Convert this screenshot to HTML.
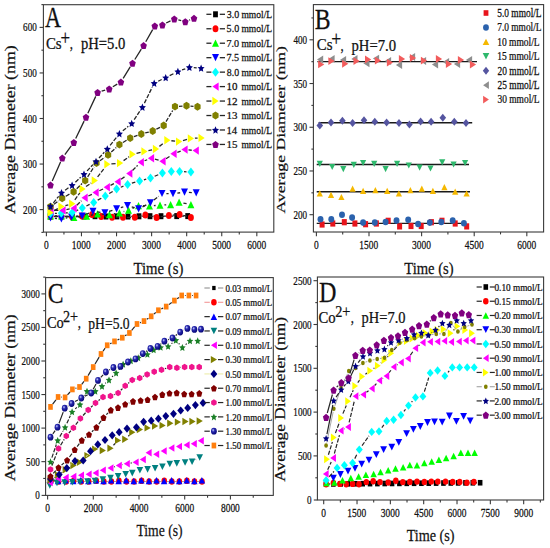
<!DOCTYPE html>
<html><head><meta charset="utf-8"><style>
html,body{margin:0;padding:0;background:#fff;}
body{width:550px;height:548px;overflow:hidden;}
svg{display:block;}
text{font-family:"Liberation Serif",serif;stroke:#111;stroke-width:0.25px;}
</style></head><body>
<svg width="550" height="548" viewBox="0 0 550 548">
<defs><radialGradient id="ballg" cx="0.38" cy="0.35" r="0.7"><stop offset="0" stop-color="#c8d0ff"/><stop offset="0.35" stop-color="#2a2ab0"/><stop offset="1" stop-color="#000070"/></radialGradient></defs>
<rect width="550" height="548" fill="#fff"/>
<line x1="39.60" y1="209.60" x2="43.40" y2="209.60" stroke="#3a3a3a" stroke-width="1.1"/>
<text transform="translate(23.12,213.60) scale(0.7700,1)" font-size="11.8" fill="#111" >200</text>
<line x1="39.60" y1="164.05" x2="43.40" y2="164.05" stroke="#3a3a3a" stroke-width="1.1"/>
<text transform="translate(23.12,168.05) scale(0.7700,1)" font-size="11.8" fill="#111" >300</text>
<line x1="39.60" y1="118.50" x2="43.40" y2="118.50" stroke="#3a3a3a" stroke-width="1.1"/>
<text transform="translate(23.12,122.50) scale(0.7700,1)" font-size="11.8" fill="#111" >400</text>
<line x1="39.60" y1="72.95" x2="43.40" y2="72.95" stroke="#3a3a3a" stroke-width="1.1"/>
<text transform="translate(23.12,76.95) scale(0.7700,1)" font-size="11.8" fill="#111" >500</text>
<line x1="39.60" y1="27.40" x2="43.40" y2="27.40" stroke="#3a3a3a" stroke-width="1.1"/>
<text transform="translate(23.12,31.40) scale(0.7700,1)" font-size="11.8" fill="#111" >600</text>
<line x1="41.40" y1="232.38" x2="43.40" y2="232.38" stroke="#3a3a3a" stroke-width="1.1"/>
<line x1="41.40" y1="186.82" x2="43.40" y2="186.82" stroke="#3a3a3a" stroke-width="1.1"/>
<line x1="41.40" y1="141.27" x2="43.40" y2="141.27" stroke="#3a3a3a" stroke-width="1.1"/>
<line x1="41.40" y1="95.72" x2="43.40" y2="95.72" stroke="#3a3a3a" stroke-width="1.1"/>
<line x1="41.40" y1="50.17" x2="43.40" y2="50.17" stroke="#3a3a3a" stroke-width="1.1"/>
<line x1="41.40" y1="4.62" x2="43.40" y2="4.62" stroke="#3a3a3a" stroke-width="1.1"/>
<line x1="46.40" y1="232.10" x2="46.40" y2="236.30" stroke="#3a3a3a" stroke-width="1.1"/>
<text transform="translate(44.04,249.20) scale(0.8000,1)" font-size="11.8" fill="#111" >0</text>
<line x1="81.47" y1="232.10" x2="81.47" y2="236.30" stroke="#3a3a3a" stroke-width="1.1"/>
<text transform="translate(71.79,249.20) scale(0.8000,1)" font-size="11.8" fill="#111" >1000</text>
<line x1="116.54" y1="232.10" x2="116.54" y2="236.30" stroke="#3a3a3a" stroke-width="1.1"/>
<text transform="translate(107.07,249.20) scale(0.8000,1)" font-size="11.8" fill="#111" >2000</text>
<line x1="151.61" y1="232.10" x2="151.61" y2="236.30" stroke="#3a3a3a" stroke-width="1.1"/>
<text transform="translate(142.12,249.20) scale(0.8000,1)" font-size="11.8" fill="#111" >3000</text>
<line x1="186.68" y1="232.10" x2="186.68" y2="236.30" stroke="#3a3a3a" stroke-width="1.1"/>
<text transform="translate(177.33,249.20) scale(0.8000,1)" font-size="11.8" fill="#111" >4000</text>
<line x1="221.75" y1="232.10" x2="221.75" y2="236.30" stroke="#3a3a3a" stroke-width="1.1"/>
<text transform="translate(212.22,249.20) scale(0.8000,1)" font-size="11.8" fill="#111" >5000</text>
<line x1="256.82" y1="232.10" x2="256.82" y2="236.30" stroke="#3a3a3a" stroke-width="1.1"/>
<text transform="translate(247.36,249.20) scale(0.8000,1)" font-size="11.8" fill="#111" >6000</text>
<line x1="63.94" y1="232.10" x2="63.94" y2="234.50" stroke="#3a3a3a" stroke-width="1.1"/>
<line x1="99.00" y1="232.10" x2="99.00" y2="234.50" stroke="#3a3a3a" stroke-width="1.1"/>
<line x1="134.07" y1="232.10" x2="134.07" y2="234.50" stroke="#3a3a3a" stroke-width="1.1"/>
<line x1="169.14" y1="232.10" x2="169.14" y2="234.50" stroke="#3a3a3a" stroke-width="1.1"/>
<line x1="204.22" y1="232.10" x2="204.22" y2="234.50" stroke="#3a3a3a" stroke-width="1.1"/>
<line x1="239.28" y1="232.10" x2="239.28" y2="234.50" stroke="#3a3a3a" stroke-width="1.1"/>
<rect x="43.40" y="4.70" width="230.40" height="227.40" fill="none" stroke="#3a3a3a" stroke-width="1.1"/>
<text transform="translate(44.98,26.60) scale(0.7548,1)" font-size="29.5" fill="#111" >A</text>
<text transform="translate(45.89,48.90) scale(0.9439,1)" font-size="15.8" fill="#111" >Cs</text>
<text transform="translate(60.45,44.70) scale(0.8322,1)" font-size="20.4" fill="#111" >+</text>
<text transform="translate(69.81,49.00) scale(0.8075,1)" font-size="15.8" fill="#111" >,</text>
<text transform="translate(80.96,49.20) scale(0.9254,1)" font-size="15.8" fill="#111" >pH=5.0</text>
<text transform="translate(15.40,213.97) rotate(-90) scale(1,0.8174)" font-size="17.795" fill="#111">Average Diameter (nm)</text>
<text transform="translate(133.53,273.90) scale(0.8435,1)" font-size="17.5" fill="#111" >Time (s)</text>
<line x1="309.50" y1="214.70" x2="313.40" y2="214.70" stroke="#3a3a3a" stroke-width="1.1"/>
<text transform="translate(293.52,218.70) scale(0.7700,1)" font-size="11.8" fill="#111" >200</text>
<line x1="309.50" y1="170.97" x2="313.40" y2="170.97" stroke="#3a3a3a" stroke-width="1.1"/>
<text transform="translate(293.52,174.97) scale(0.7700,1)" font-size="11.8" fill="#111" >250</text>
<line x1="309.50" y1="127.25" x2="313.40" y2="127.25" stroke="#3a3a3a" stroke-width="1.1"/>
<text transform="translate(293.52,131.25) scale(0.7700,1)" font-size="11.8" fill="#111" >300</text>
<line x1="309.50" y1="83.52" x2="313.40" y2="83.52" stroke="#3a3a3a" stroke-width="1.1"/>
<text transform="translate(293.52,87.52) scale(0.7700,1)" font-size="11.8" fill="#111" >350</text>
<line x1="309.50" y1="39.80" x2="313.40" y2="39.80" stroke="#3a3a3a" stroke-width="1.1"/>
<text transform="translate(293.52,43.80) scale(0.7700,1)" font-size="11.8" fill="#111" >400</text>
<line x1="311.40" y1="192.84" x2="313.40" y2="192.84" stroke="#3a3a3a" stroke-width="1.1"/>
<line x1="311.40" y1="149.11" x2="313.40" y2="149.11" stroke="#3a3a3a" stroke-width="1.1"/>
<line x1="311.40" y1="105.39" x2="313.40" y2="105.39" stroke="#3a3a3a" stroke-width="1.1"/>
<line x1="311.40" y1="61.66" x2="313.40" y2="61.66" stroke="#3a3a3a" stroke-width="1.1"/>
<line x1="311.40" y1="17.94" x2="313.40" y2="17.94" stroke="#3a3a3a" stroke-width="1.1"/>
<line x1="316.40" y1="232.00" x2="316.40" y2="236.20" stroke="#3a3a3a" stroke-width="1.1"/>
<text transform="translate(314.04,249.30) scale(0.8000,1)" font-size="11.8" fill="#111" >0</text>
<line x1="369.00" y1="232.00" x2="369.00" y2="236.20" stroke="#3a3a3a" stroke-width="1.1"/>
<text transform="translate(359.33,249.30) scale(0.8000,1)" font-size="11.8" fill="#111" >1500</text>
<line x1="421.61" y1="232.00" x2="421.61" y2="236.20" stroke="#3a3a3a" stroke-width="1.1"/>
<text transform="translate(412.12,249.30) scale(0.8000,1)" font-size="11.8" fill="#111" >3000</text>
<line x1="474.21" y1="232.00" x2="474.21" y2="236.20" stroke="#3a3a3a" stroke-width="1.1"/>
<text transform="translate(464.86,249.30) scale(0.8000,1)" font-size="11.8" fill="#111" >4500</text>
<line x1="526.82" y1="232.00" x2="526.82" y2="236.20" stroke="#3a3a3a" stroke-width="1.1"/>
<text transform="translate(517.36,249.30) scale(0.8000,1)" font-size="11.8" fill="#111" >6000</text>
<line x1="342.70" y1="232.00" x2="342.70" y2="234.40" stroke="#3a3a3a" stroke-width="1.1"/>
<line x1="395.31" y1="232.00" x2="395.31" y2="234.40" stroke="#3a3a3a" stroke-width="1.1"/>
<line x1="447.91" y1="232.00" x2="447.91" y2="234.40" stroke="#3a3a3a" stroke-width="1.1"/>
<line x1="500.52" y1="232.00" x2="500.52" y2="234.40" stroke="#3a3a3a" stroke-width="1.1"/>
<rect x="313.40" y="4.60" width="230.20" height="227.40" fill="none" stroke="#3a3a3a" stroke-width="1.1"/>
<text transform="translate(314.72,29.00) scale(0.8052,1)" font-size="29.5" fill="#111" >B</text>
<text transform="translate(316.79,50.40) scale(0.9439,1)" font-size="15.8" fill="#111" >Cs</text>
<text transform="translate(331.22,45.50) scale(0.8638,1)" font-size="20.4" fill="#111" >+</text>
<text transform="translate(340.51,50.50) scale(0.8075,1)" font-size="15.8" fill="#111" >,</text>
<text transform="translate(351.46,50.60) scale(0.9318,1)" font-size="15.8" fill="#111" >pH=7.0</text>
<text transform="translate(284.70,213.57) rotate(-90) scale(1,0.7618)" font-size="17.700" fill="#111">Average Diameter (nm)</text>
<text transform="translate(404.24,274.20) scale(0.8349,1)" font-size="17.5" fill="#111" >Time (s)</text>
<text transform="translate(35.20,499.20) scale(0.7700,1)" font-size="11.8" fill="#111" >0</text>
<line x1="41.40" y1="461.65" x2="45.60" y2="461.65" stroke="#3a3a3a" stroke-width="1.1"/>
<text transform="translate(26.12,465.65) scale(0.7700,1)" font-size="11.8" fill="#111" >500</text>
<line x1="41.40" y1="428.10" x2="45.60" y2="428.10" stroke="#3a3a3a" stroke-width="1.1"/>
<text transform="translate(21.57,432.10) scale(0.7700,1)" font-size="11.8" fill="#111" >1000</text>
<line x1="41.40" y1="394.55" x2="45.60" y2="394.55" stroke="#3a3a3a" stroke-width="1.1"/>
<text transform="translate(21.57,398.55) scale(0.7700,1)" font-size="11.8" fill="#111" >1500</text>
<line x1="41.40" y1="361.00" x2="45.60" y2="361.00" stroke="#3a3a3a" stroke-width="1.1"/>
<text transform="translate(21.57,365.00) scale(0.7700,1)" font-size="11.8" fill="#111" >2000</text>
<line x1="41.40" y1="327.45" x2="45.60" y2="327.45" stroke="#3a3a3a" stroke-width="1.1"/>
<text transform="translate(21.57,331.45) scale(0.7700,1)" font-size="11.8" fill="#111" >2500</text>
<line x1="41.40" y1="293.90" x2="45.60" y2="293.90" stroke="#3a3a3a" stroke-width="1.1"/>
<text transform="translate(21.57,297.90) scale(0.7700,1)" font-size="11.8" fill="#111" >3000</text>
<line x1="43.20" y1="478.43" x2="45.60" y2="478.43" stroke="#3a3a3a" stroke-width="1.1"/>
<line x1="43.20" y1="444.88" x2="45.60" y2="444.88" stroke="#3a3a3a" stroke-width="1.1"/>
<line x1="43.20" y1="411.32" x2="45.60" y2="411.32" stroke="#3a3a3a" stroke-width="1.1"/>
<line x1="43.20" y1="377.77" x2="45.60" y2="377.77" stroke="#3a3a3a" stroke-width="1.1"/>
<line x1="43.20" y1="344.22" x2="45.60" y2="344.22" stroke="#3a3a3a" stroke-width="1.1"/>
<line x1="43.20" y1="310.67" x2="45.60" y2="310.67" stroke="#3a3a3a" stroke-width="1.1"/>
<line x1="43.20" y1="277.12" x2="45.60" y2="277.12" stroke="#3a3a3a" stroke-width="1.1"/>
<line x1="47.60" y1="495.40" x2="47.60" y2="499.60" stroke="#3a3a3a" stroke-width="1.1"/>
<text transform="translate(45.24,511.80) scale(0.8000,1)" font-size="11.8" fill="#111" >0</text>
<line x1="93.30" y1="495.40" x2="93.30" y2="499.60" stroke="#3a3a3a" stroke-width="1.1"/>
<text transform="translate(83.83,511.80) scale(0.8000,1)" font-size="11.8" fill="#111" >2000</text>
<line x1="139.00" y1="495.40" x2="139.00" y2="499.60" stroke="#3a3a3a" stroke-width="1.1"/>
<text transform="translate(129.65,511.80) scale(0.8000,1)" font-size="11.8" fill="#111" >4000</text>
<line x1="184.70" y1="495.40" x2="184.70" y2="499.60" stroke="#3a3a3a" stroke-width="1.1"/>
<text transform="translate(175.24,511.80) scale(0.8000,1)" font-size="11.8" fill="#111" >6000</text>
<line x1="230.40" y1="495.40" x2="230.40" y2="499.60" stroke="#3a3a3a" stroke-width="1.1"/>
<text transform="translate(220.96,511.80) scale(0.8000,1)" font-size="11.8" fill="#111" >8000</text>
<line x1="70.45" y1="495.40" x2="70.45" y2="497.80" stroke="#3a3a3a" stroke-width="1.1"/>
<line x1="116.15" y1="495.40" x2="116.15" y2="497.80" stroke="#3a3a3a" stroke-width="1.1"/>
<line x1="161.85" y1="495.40" x2="161.85" y2="497.80" stroke="#3a3a3a" stroke-width="1.1"/>
<line x1="207.55" y1="495.40" x2="207.55" y2="497.80" stroke="#3a3a3a" stroke-width="1.1"/>
<line x1="253.25" y1="495.40" x2="253.25" y2="497.80" stroke="#3a3a3a" stroke-width="1.1"/>
<rect x="45.60" y="277.60" width="227.70" height="217.80" fill="none" stroke="#3a3a3a" stroke-width="1.1"/>
<line x1="41.60" y1="495.40" x2="45.60" y2="495.40" stroke="#3a3a3a" stroke-width="1.1"/>
<text transform="translate(47.83,303.10) scale(0.8017,1)" font-size="29.5" fill="#111" >C</text>
<text transform="translate(46.91,328.20) scale(0.8908,1)" font-size="16.2" fill="#111" >Co</text>
<text transform="translate(62.98,322.40) scale(0.8771,1)" font-size="16.2" fill="#111" >2+</text>
<text transform="translate(77.71,328.40) scale(0.7875,1)" font-size="16.2" fill="#111" >,</text>
<text transform="translate(88.28,328.60) scale(0.8425,1)" font-size="16.2" fill="#111" >pH=5.0</text>
<text transform="translate(15.10,481.27) rotate(-90) scale(1,0.7994)" font-size="17.626" fill="#111">Average Diameter (nm)</text>
<text transform="translate(136.45,536.00) scale(0.7804,1)" font-size="17.5" fill="#111" >Time (s)</text>
<text transform="translate(307.00,503.70) scale(0.7700,1)" font-size="11.8" fill="#111" >0</text>
<line x1="313.50" y1="455.90" x2="317.40" y2="455.90" stroke="#3a3a3a" stroke-width="1.1"/>
<text transform="translate(297.92,459.90) scale(0.7700,1)" font-size="11.8" fill="#111" >500</text>
<line x1="313.50" y1="412.10" x2="317.40" y2="412.10" stroke="#3a3a3a" stroke-width="1.1"/>
<text transform="translate(293.37,416.10) scale(0.7700,1)" font-size="11.8" fill="#111" >1000</text>
<line x1="313.50" y1="368.30" x2="317.40" y2="368.30" stroke="#3a3a3a" stroke-width="1.1"/>
<text transform="translate(293.37,372.30) scale(0.7700,1)" font-size="11.8" fill="#111" >1500</text>
<line x1="313.50" y1="324.50" x2="317.40" y2="324.50" stroke="#3a3a3a" stroke-width="1.1"/>
<text transform="translate(293.37,328.50) scale(0.7700,1)" font-size="11.8" fill="#111" >2000</text>
<line x1="313.50" y1="280.70" x2="317.40" y2="280.70" stroke="#3a3a3a" stroke-width="1.1"/>
<text transform="translate(293.37,284.70) scale(0.7700,1)" font-size="11.8" fill="#111" >2500</text>
<line x1="315.30" y1="477.80" x2="317.40" y2="477.80" stroke="#3a3a3a" stroke-width="1.1"/>
<line x1="315.30" y1="434.00" x2="317.40" y2="434.00" stroke="#3a3a3a" stroke-width="1.1"/>
<line x1="315.30" y1="390.20" x2="317.40" y2="390.20" stroke="#3a3a3a" stroke-width="1.1"/>
<line x1="315.30" y1="346.40" x2="317.40" y2="346.40" stroke="#3a3a3a" stroke-width="1.1"/>
<line x1="315.30" y1="302.60" x2="317.40" y2="302.60" stroke="#3a3a3a" stroke-width="1.1"/>
<line x1="323.70" y1="500.00" x2="323.70" y2="504.20" stroke="#3a3a3a" stroke-width="1.1"/>
<text transform="translate(321.34,516.80) scale(0.8000,1)" font-size="11.8" fill="#111" >0</text>
<line x1="357.03" y1="500.00" x2="357.03" y2="504.20" stroke="#3a3a3a" stroke-width="1.1"/>
<text transform="translate(347.35,516.80) scale(0.8000,1)" font-size="11.8" fill="#111" >1500</text>
<line x1="390.36" y1="500.00" x2="390.36" y2="504.20" stroke="#3a3a3a" stroke-width="1.1"/>
<text transform="translate(380.87,516.80) scale(0.8000,1)" font-size="11.8" fill="#111" >3000</text>
<line x1="423.69" y1="500.00" x2="423.69" y2="504.20" stroke="#3a3a3a" stroke-width="1.1"/>
<text transform="translate(414.34,516.80) scale(0.8000,1)" font-size="11.8" fill="#111" >4500</text>
<line x1="457.02" y1="500.00" x2="457.02" y2="504.20" stroke="#3a3a3a" stroke-width="1.1"/>
<text transform="translate(447.56,516.80) scale(0.8000,1)" font-size="11.8" fill="#111" >6000</text>
<line x1="490.35" y1="500.00" x2="490.35" y2="504.20" stroke="#3a3a3a" stroke-width="1.1"/>
<text transform="translate(480.78,516.80) scale(0.8000,1)" font-size="11.8" fill="#111" >7500</text>
<line x1="523.68" y1="500.00" x2="523.68" y2="504.20" stroke="#3a3a3a" stroke-width="1.1"/>
<text transform="translate(514.27,516.80) scale(0.8000,1)" font-size="11.8" fill="#111" >9000</text>
<line x1="340.37" y1="500.00" x2="340.37" y2="502.40" stroke="#3a3a3a" stroke-width="1.1"/>
<line x1="373.69" y1="500.00" x2="373.69" y2="502.40" stroke="#3a3a3a" stroke-width="1.1"/>
<line x1="407.02" y1="500.00" x2="407.02" y2="502.40" stroke="#3a3a3a" stroke-width="1.1"/>
<line x1="440.36" y1="500.00" x2="440.36" y2="502.40" stroke="#3a3a3a" stroke-width="1.1"/>
<line x1="473.69" y1="500.00" x2="473.69" y2="502.40" stroke="#3a3a3a" stroke-width="1.1"/>
<line x1="507.01" y1="500.00" x2="507.01" y2="502.40" stroke="#3a3a3a" stroke-width="1.1"/>
<line x1="540.35" y1="500.00" x2="540.35" y2="502.40" stroke="#3a3a3a" stroke-width="1.1"/>
<rect x="317.40" y="277.00" width="226.20" height="223.00" fill="none" stroke="#3a3a3a" stroke-width="1.1"/>
<line x1="313.80" y1="500.00" x2="317.40" y2="500.00" stroke="#3a3a3a" stroke-width="1.1"/>
<text transform="translate(319.00,301.60) scale(0.8198,1)" font-size="29.5" fill="#111" >D</text>
<text transform="translate(318.40,322.60) scale(0.9079,1)" font-size="16.2" fill="#111" >Co</text>
<text transform="translate(335.17,317.10) scale(0.8835,1)" font-size="16.2" fill="#111" >2+</text>
<text transform="translate(350.71,322.80) scale(0.7875,1)" font-size="16.2" fill="#111" >,</text>
<text transform="translate(361.57,323.20) scale(0.8943,1)" font-size="16.2" fill="#111" >pH=7.0</text>
<text transform="translate(285.00,481.77) rotate(-90) scale(1,0.7835)" font-size="17.405" fill="#111">Average Diameter (nm)</text>
<text transform="translate(406.64,541.40) scale(0.8111,1)" font-size="17.5" fill="#111" >Time (s)</text>
<path d="M53.80,216.44L58.20,216.36M64.80,216.36L69.20,216.44M75.80,216.50L80.70,216.50M87.30,216.41L91.70,216.29M98.30,216.29L102.70,216.41M109.30,216.47L113.70,216.43M120.30,216.43L124.70,216.47M131.30,216.44L135.70,216.36M142.30,216.27L146.70,216.23M153.30,216.20L157.70,216.20M164.30,216.18L173.40,216.12M180.00,216.10L184.40,216.10" fill="none" stroke="#262626" stroke-width="1.3" stroke-dasharray="4.2,1.5"/>
<rect x="48.10" y="213.50" width="4.80" height="6.00" fill="#000"/>
<rect x="59.10" y="213.30" width="4.80" height="6.00" fill="#000"/>
<rect x="70.10" y="213.50" width="4.80" height="6.00" fill="#000"/>
<rect x="81.60" y="213.50" width="4.80" height="6.00" fill="#000"/>
<rect x="92.60" y="213.20" width="4.80" height="6.00" fill="#000"/>
<rect x="103.60" y="213.50" width="4.80" height="6.00" fill="#000"/>
<rect x="114.60" y="213.40" width="4.80" height="6.00" fill="#000"/>
<rect x="125.60" y="213.50" width="4.80" height="6.00" fill="#000"/>
<rect x="136.60" y="213.30" width="4.80" height="6.00" fill="#000"/>
<rect x="147.60" y="213.20" width="4.80" height="6.00" fill="#000"/>
<rect x="158.60" y="213.20" width="4.80" height="6.00" fill="#000"/>
<rect x="174.30" y="213.10" width="4.80" height="6.00" fill="#000"/>
<rect x="185.30" y="213.10" width="4.80" height="6.00" fill="#000"/>
<path d="M54.35,216.50L57.65,216.50M65.35,216.50L68.15,216.50M75.85,216.31L78.15,216.19M85.82,215.47L88.28,215.13M95.89,215.35L97.41,215.65M105.04,216.72L108.26,216.98M115.95,217.30L119.15,217.30M126.85,217.30L130.95,217.30M138.58,216.48L141.62,215.82M149.18,215.81L152.82,216.59M160.42,216.84L165.08,216.16M172.73,215.17L175.77,214.83M183.35,215.40L187.15,216.40" fill="none" stroke="#262626" stroke-width="1.3" stroke-dasharray="4.2,1.5"/>
<ellipse cx="50.50" cy="216.50" rx="2.95" ry="3.50" fill="#ff0000"/>
<ellipse cx="61.50" cy="216.50" rx="2.95" ry="3.50" fill="#ff0000"/>
<ellipse cx="72.00" cy="216.50" rx="2.95" ry="3.50" fill="#ff0000"/>
<ellipse cx="82.00" cy="216.00" rx="2.95" ry="3.50" fill="#ff0000"/>
<ellipse cx="92.10" cy="214.60" rx="2.95" ry="3.50" fill="#ff0000"/>
<ellipse cx="101.20" cy="216.40" rx="2.95" ry="3.50" fill="#ff0000"/>
<ellipse cx="112.10" cy="217.30" rx="2.95" ry="3.50" fill="#ff0000"/>
<ellipse cx="123.00" cy="217.30" rx="2.95" ry="3.50" fill="#ff0000"/>
<ellipse cx="134.80" cy="217.30" rx="2.95" ry="3.50" fill="#ff0000"/>
<ellipse cx="145.40" cy="215.00" rx="2.95" ry="3.50" fill="#ff0000"/>
<ellipse cx="156.60" cy="217.40" rx="2.95" ry="3.50" fill="#ff0000"/>
<ellipse cx="168.90" cy="215.60" rx="2.95" ry="3.50" fill="#ff0000"/>
<ellipse cx="179.60" cy="214.40" rx="2.95" ry="3.50" fill="#ff0000"/>
<ellipse cx="190.90" cy="217.40" rx="2.95" ry="3.50" fill="#ff0000"/>
<path d="M54.90,216.00L57.10,216.00M65.87,216.53L69.53,216.97M78.28,217.05L82.22,216.65M90.90,215.25L93.20,214.75M101.89,214.10L105.01,214.30M113.73,213.82L115.07,213.58M123.64,211.59L124.26,211.41M132.51,208.35L134.49,207.45M142.90,205.76L145.10,205.84M153.88,205.62L155.62,205.48M164.40,204.89L166.20,204.81M183.42,203.08L186.58,203.72" fill="none" stroke="#262626" stroke-width="1.3" stroke-dasharray="4.2,1.5"/>
<polygon points="50.50,212.40 54.00,219.60 47.00,219.60" fill="#00ff00"/>
<polygon points="61.50,212.40 65.00,219.60 58.00,219.60" fill="#00ff00"/>
<polygon points="73.90,213.90 77.40,221.10 70.40,221.10" fill="#00ff00"/>
<polygon points="86.60,212.60 90.10,219.80 83.10,219.80" fill="#00ff00"/>
<polygon points="97.50,210.20 101.00,217.40 94.00,217.40" fill="#00ff00"/>
<polygon points="109.40,211.00 112.90,218.20 105.90,218.20" fill="#00ff00"/>
<polygon points="119.40,209.20 122.90,216.40 115.90,216.40" fill="#00ff00"/>
<polygon points="128.50,206.60 132.00,213.80 125.00,213.80" fill="#00ff00"/>
<polygon points="138.50,202.00 142.00,209.20 135.00,209.20" fill="#00ff00"/>
<polygon points="149.50,202.40 153.00,209.60 146.00,209.60" fill="#00ff00"/>
<polygon points="160.00,201.50 163.50,208.70 156.50,208.70" fill="#00ff00"/>
<polygon points="170.60,201.00 174.10,208.20 167.10,208.20" fill="#00ff00"/>
<polygon points="179.10,198.60 182.60,205.80 175.60,205.80" fill="#00ff00"/>
<polygon points="190.90,201.00 194.40,208.20 187.40,208.20" fill="#00ff00"/>
<path d="M54.87,218.28L57.03,218.52M65.73,218.19L67.27,217.91M75.98,216.65L77.82,216.45M86.26,214.27L88.94,213.13M97.37,211.95L100.53,212.35M109.07,211.47L112.43,210.33M120.83,207.66L123.27,206.94M131.74,206.89L134.36,207.61M142.54,206.80L146.46,204.80M153.86,200.02L158.54,196.28M166.40,193.54L168.60,193.56M177.37,193.07L180.13,192.73M188.89,192.46L191.81,192.64" fill="none" stroke="#262626" stroke-width="1.3" stroke-dasharray="4.2,1.5"/>
<polygon points="50.50,221.40 54.00,214.20 47.00,214.20" fill="#0000ff"/>
<polygon points="61.40,222.60 64.90,215.40 57.90,215.40" fill="#0000ff"/>
<polygon points="71.60,220.70 75.10,213.50 68.10,213.50" fill="#0000ff"/>
<polygon points="82.20,219.60 85.70,212.40 78.70,212.40" fill="#0000ff"/>
<polygon points="93.00,215.00 96.50,207.80 89.50,207.80" fill="#0000ff"/>
<polygon points="104.90,216.50 108.40,209.30 101.40,209.30" fill="#0000ff"/>
<polygon points="116.60,212.50 120.10,205.30 113.10,205.30" fill="#0000ff"/>
<polygon points="127.50,209.30 131.00,202.10 124.00,202.10" fill="#0000ff"/>
<polygon points="138.60,212.40 142.10,205.20 135.10,205.20" fill="#0000ff"/>
<polygon points="150.40,206.40 153.90,199.20 146.90,199.20" fill="#0000ff"/>
<polygon points="162.00,197.10 165.50,189.90 158.50,189.90" fill="#0000ff"/>
<polygon points="173.00,197.20 176.50,190.00 169.50,190.00" fill="#0000ff"/>
<polygon points="184.50,195.80 188.00,188.60 181.00,188.60" fill="#0000ff"/>
<polygon points="196.20,196.50 199.70,189.30 192.70,189.30" fill="#0000ff"/>
<path d="M54.90,213.32L56.90,213.28M65.70,212.96L67.80,212.84M76.32,210.72L78.18,209.88M86.38,206.00L89.62,204.40M97.70,200.19L101.30,198.21M109.22,193.57L112.68,191.43M120.76,187.26L123.44,186.14M131.88,183.19L135.32,182.21M143.89,179.82L146.21,179.18M154.66,176.25L158.24,174.75M183.99,171.67L186.51,171.83" fill="none" stroke="#262626" stroke-width="1.3" stroke-dasharray="4.2,1.5"/>
<polygon points="50.50,208.90 54.00,213.40 50.50,217.90 47.00,213.40" fill="#00ffff"/>
<polygon points="61.30,208.70 64.80,213.20 61.30,217.70 57.80,213.20" fill="#00ffff"/>
<polygon points="72.20,208.10 75.70,212.60 72.20,217.10 68.70,212.60" fill="#00ffff"/>
<polygon points="82.30,203.50 85.80,208.00 82.30,212.50 78.80,208.00" fill="#00ffff"/>
<polygon points="93.70,197.90 97.20,202.40 93.70,206.90 90.20,202.40" fill="#00ffff"/>
<polygon points="105.30,191.50 108.80,196.00 105.30,200.50 101.80,196.00" fill="#00ffff"/>
<polygon points="116.60,184.50 120.10,189.00 116.60,193.50 113.10,189.00" fill="#00ffff"/>
<polygon points="127.60,179.90 131.10,184.40 127.60,188.90 124.10,184.40" fill="#00ffff"/>
<polygon points="139.60,176.50 143.10,181.00 139.60,185.50 136.10,181.00" fill="#00ffff"/>
<polygon points="150.50,173.50 154.00,178.00 150.50,182.50 147.00,178.00" fill="#00ffff"/>
<polygon points="162.40,168.50 165.90,173.00 162.40,177.50 158.90,173.00" fill="#00ffff"/>
<polygon points="171.30,166.90 174.80,171.40 171.30,175.90 167.80,171.40" fill="#00ffff"/>
<polygon points="179.60,166.90 183.10,171.40 179.60,175.90 176.10,171.40" fill="#00ffff"/>
<polygon points="190.90,167.60 194.40,172.10 190.90,176.60 187.40,172.10" fill="#00ffff"/>
<path d="M54.50,210.27L58.50,210.33M66.45,209.62L69.65,208.98M76.80,205.18L81.40,200.82M88.33,196.00L91.87,194.30M99.34,190.73L103.06,188.97M110.51,185.34L113.89,183.66M121.08,179.33L125.82,175.97M132.46,170.42L137.64,165.38M144.61,160.77L147.19,159.73M154.91,159.22L158.59,160.18M166.02,158.83L169.98,156.17M177.32,152.34L180.68,151.06M188.49,149.96L191.71,150.24" fill="none" stroke="#262626" stroke-width="1.3" stroke-dasharray="4.2,1.5"/>
<polygon points="47.40,210.20 53.60,206.00 53.60,214.40" fill="#ff00ff"/>
<polygon points="59.40,210.40 65.60,206.20 65.60,214.60" fill="#ff00ff"/>
<polygon points="70.50,208.20 76.70,204.00 76.70,212.40" fill="#ff00ff"/>
<polygon points="81.50,197.80 87.70,193.60 87.70,202.00" fill="#ff00ff"/>
<polygon points="92.50,192.50 98.70,188.30 98.70,196.70" fill="#ff00ff"/>
<polygon points="103.70,187.20 109.90,183.00 109.90,191.40" fill="#ff00ff"/>
<polygon points="114.50,181.80 120.70,177.60 120.70,186.00" fill="#ff00ff"/>
<polygon points="126.20,173.50 132.40,169.30 132.40,177.70" fill="#ff00ff"/>
<polygon points="137.70,162.30 143.90,158.10 143.90,166.50" fill="#ff00ff"/>
<polygon points="147.90,158.20 154.10,154.00 154.10,162.40" fill="#ff00ff"/>
<polygon points="159.40,161.20 165.60,157.00 165.60,165.40" fill="#ff00ff"/>
<polygon points="170.40,153.80 176.60,149.60 176.60,158.00" fill="#ff00ff"/>
<polygon points="181.40,149.60 187.60,145.40 187.60,153.80" fill="#ff00ff"/>
<polygon points="192.60,150.60 198.80,146.40 198.80,154.80" fill="#ff00ff"/>
<path d="M54.17,210.60L57.83,208.60M65.41,205.54L68.29,204.76M74.85,199.92L79.85,192.78M86.00,186.58L91.30,182.92M97.60,176.90L104.60,167.90M111.39,163.92L116.11,163.48M123.58,160.62L129.12,156.68M136.53,153.28L140.57,152.32M148.44,150.58L152.06,149.82M159.42,146.39L163.98,142.91M171.38,140.74L175.12,141.16M183.01,140.54L186.99,139.46M194.90,138.21L197.60,138.09" fill="none" stroke="#262626" stroke-width="1.3" stroke-dasharray="4.2,1.5"/>
<polygon points="53.60,212.60 47.40,208.40 47.40,216.80" fill="#ffff00"/>
<polygon points="64.60,206.60 58.40,202.40 58.40,210.80" fill="#ffff00"/>
<polygon points="75.30,203.70 69.10,199.50 69.10,207.90" fill="#ffff00"/>
<polygon points="85.60,189.00 79.40,184.80 79.40,193.20" fill="#ffff00"/>
<polygon points="97.90,180.50 91.70,176.30 91.70,184.70" fill="#ffff00"/>
<polygon points="110.50,164.30 104.30,160.10 104.30,168.50" fill="#ffff00"/>
<polygon points="123.20,163.10 117.00,158.90 117.00,167.30" fill="#ffff00"/>
<polygon points="135.70,154.20 129.50,150.00 129.50,158.40" fill="#ffff00"/>
<polygon points="147.60,151.40 141.40,147.20 141.40,155.60" fill="#ffff00"/>
<polygon points="159.10,149.00 152.90,144.80 152.90,153.20" fill="#ffff00"/>
<polygon points="170.50,140.30 164.30,136.10 164.30,144.50" fill="#ffff00"/>
<polygon points="182.20,141.60 176.00,137.40 176.00,145.80" fill="#ffff00"/>
<polygon points="194.00,138.40 187.80,134.20 187.80,142.60" fill="#ffff00"/>
<polygon points="204.70,137.90 198.50,133.70 198.50,142.10" fill="#ffff00"/>
<path d="M53.94,204.16L58.76,200.74M65.80,196.22L70.00,193.78M76.73,188.71L82.07,183.59M87.66,176.79L94.04,166.91M99.95,160.66L104.65,157.34M111.29,152.00L116.21,147.50M122.97,142.45L126.63,140.25M134.02,136.69L137.48,135.41M145.21,132.97L148.79,132.03M156.39,129.15L160.01,127.35M166.04,121.59L172.66,110.51M178.99,106.32L182.51,106.08M190.49,106.13L193.51,106.37" fill="none" stroke="#262626" stroke-width="1.3" stroke-dasharray="4.2,1.5"/>
<polygon points="50.50,202.65 53.60,204.62 53.60,208.57 50.50,210.55 47.40,208.57 47.40,204.62" fill="#808000"/>
<polygon points="62.20,194.35 65.30,196.33 65.30,200.28 62.20,202.25 59.10,200.28 59.10,196.33" fill="#808000"/>
<polygon points="73.60,187.75 76.70,189.72 76.70,193.67 73.60,195.65 70.50,193.67 70.50,189.72" fill="#808000"/>
<polygon points="85.20,176.65 88.30,178.62 88.30,182.57 85.20,184.55 82.10,182.57 82.10,178.62" fill="#808000"/>
<polygon points="96.50,159.15 99.60,161.12 99.60,165.07 96.50,167.05 93.40,165.07 93.40,161.12" fill="#808000"/>
<polygon points="108.10,150.95 111.20,152.93 111.20,156.88 108.10,158.85 105.00,156.88 105.00,152.93" fill="#808000"/>
<polygon points="119.40,140.65 122.50,142.62 122.50,146.57 119.40,148.55 116.30,146.57 116.30,142.62" fill="#808000"/>
<polygon points="130.20,134.15 133.30,136.12 133.30,140.07 130.20,142.05 127.10,140.07 127.10,136.12" fill="#808000"/>
<polygon points="141.30,130.05 144.40,132.03 144.40,135.97 141.30,137.95 138.20,135.97 138.20,132.03" fill="#808000"/>
<polygon points="152.70,127.05 155.80,129.03 155.80,132.97 152.70,134.95 149.60,132.97 149.60,129.03" fill="#808000"/>
<polygon points="163.70,121.55 166.80,123.53 166.80,127.47 163.70,129.45 160.60,127.47 160.60,123.53" fill="#808000"/>
<polygon points="175.00,102.65 178.10,104.62 178.10,108.57 175.00,110.55 171.90,108.57 171.90,104.62" fill="#808000"/>
<polygon points="186.50,101.85 189.60,103.83 189.60,107.77 186.50,109.75 183.40,107.78 183.40,103.83" fill="#808000"/>
<polygon points="197.50,102.75 200.60,104.73 200.60,108.67 197.50,110.65 194.40,108.68 194.40,104.73" fill="#808000"/>
<path d="M53.35,202.80L58.65,196.30M65.13,190.20L68.47,187.80M75.40,182.15L80.70,177.25M87.08,170.92L92.92,164.68M99.02,158.06L104.28,152.24M110.11,145.36L116.59,137.24M122.83,130.82L128.27,126.28M134.20,119.62L139.90,110.98M144.41,103.11L152.19,87.29M158.19,81.26L161.71,79.54M169.67,75.62L173.93,73.48M182.05,69.98L185.25,68.82M193.79,67.60L196.71,67.80" fill="none" stroke="#262626" stroke-width="1.3" stroke-dasharray="4.2,1.5"/>
<polygon points="50.50,202.60 51.54,205.10 54.00,205.43 52.18,207.30 52.66,210.00 50.50,208.65 48.34,210.00 48.82,207.30 47.00,205.43 49.46,205.10" fill="#000080"/>
<polygon points="61.50,189.10 62.54,191.60 65.00,191.93 63.18,193.80 63.66,196.50 61.50,195.15 59.34,196.50 59.82,193.80 58.00,191.93 60.46,191.60" fill="#000080"/>
<polygon points="72.10,181.50 73.14,184.00 75.60,184.33 73.78,186.20 74.26,188.90 72.10,187.55 69.94,188.90 70.42,186.20 68.60,184.33 71.06,184.00" fill="#000080"/>
<polygon points="84.00,170.50 85.04,173.00 87.50,173.33 85.68,175.20 86.16,177.90 84.00,176.55 81.84,177.90 82.32,175.20 80.50,173.33 82.96,173.00" fill="#000080"/>
<polygon points="96.00,157.70 97.04,160.20 99.50,160.53 97.68,162.40 98.16,165.10 96.00,163.75 93.84,165.10 94.32,162.40 92.50,160.53 94.96,160.20" fill="#000080"/>
<polygon points="107.30,145.20 108.34,147.70 110.80,148.03 108.98,149.90 109.46,152.60 107.30,151.25 105.14,152.60 105.62,149.90 103.80,148.03 106.26,147.70" fill="#000080"/>
<polygon points="119.40,130.00 120.44,132.50 122.90,132.83 121.08,134.70 121.56,137.40 119.40,136.05 117.24,137.40 117.72,134.70 115.90,132.83 118.36,132.50" fill="#000080"/>
<polygon points="131.70,119.70 132.74,122.20 135.20,122.53 133.38,124.40 133.86,127.10 131.70,125.75 129.54,127.10 130.02,124.40 128.20,122.53 130.66,122.20" fill="#000080"/>
<polygon points="142.40,103.50 143.44,106.00 145.90,106.33 144.08,108.20 144.56,110.90 142.40,109.55 140.24,110.90 140.72,108.20 138.90,106.33 141.36,106.00" fill="#000080"/>
<polygon points="154.20,79.50 155.24,82.00 157.70,82.33 155.88,84.20 156.36,86.90 154.20,85.55 152.04,86.90 152.52,84.20 150.70,82.33 153.16,82.00" fill="#000080"/>
<polygon points="165.70,73.90 166.74,76.40 169.20,76.73 167.38,78.60 167.86,81.30 165.70,79.95 163.54,81.30 164.02,78.60 162.20,76.73 164.66,76.40" fill="#000080"/>
<polygon points="177.90,67.80 178.94,70.30 181.40,70.63 179.58,72.50 180.06,75.20 177.90,73.85 175.74,75.20 176.22,72.50 174.40,70.63 176.86,70.30" fill="#000080"/>
<polygon points="189.40,63.60 190.44,66.10 192.90,66.43 191.08,68.30 191.56,71.00 189.40,69.65 187.24,71.00 187.72,68.30 185.90,66.43 188.36,66.10" fill="#000080"/>
<polygon points="201.10,64.40 202.14,66.90 204.60,67.23 202.78,69.10 203.26,71.80 201.10,70.45 198.94,71.80 199.42,69.10 197.60,67.23 200.06,66.90" fill="#000080"/>
<path d="M52.25,181.00L60.55,162.00M64.87,154.52L71.23,145.88M75.70,138.48L84.10,121.12M87.85,113.25L95.75,96.35M101.64,91.18L105.16,90.12M112.86,86.74L117.24,84.16M123.18,78.31L130.22,66.89M134.81,59.52L141.29,49.18M145.76,41.73L152.64,29.67M166.18,22.99L170.52,20.81M178.38,19.94L181.22,20.66M189.23,20.16L190.07,19.84" fill="none" stroke="#262626" stroke-width="1.3"/>
<polygon points="50.50,181.50 53.80,184.17 52.54,188.50 48.46,188.50 47.20,184.17" fill="#800080"/>
<polygon points="62.30,154.50 65.60,157.17 64.34,161.50 60.26,161.50 59.00,157.17" fill="#800080"/>
<polygon points="73.80,138.90 77.10,141.57 75.84,145.90 71.76,145.90 70.50,141.57" fill="#800080"/>
<polygon points="86.00,113.70 89.30,116.37 88.04,120.70 83.96,120.70 82.70,116.37" fill="#800080"/>
<polygon points="97.60,88.90 100.90,91.57 99.64,95.90 95.56,95.90 94.30,91.57" fill="#800080"/>
<polygon points="109.20,85.40 112.50,88.07 111.24,92.40 107.16,92.40 105.90,88.07" fill="#800080"/>
<polygon points="120.90,78.50 124.20,81.17 122.94,85.50 118.86,85.50 117.60,81.17" fill="#800080"/>
<polygon points="132.50,59.70 135.80,62.37 134.54,66.70 130.46,66.70 129.20,62.37" fill="#800080"/>
<polygon points="143.60,42.00 146.90,44.67 145.64,49.00 141.56,49.00 140.30,44.67" fill="#800080"/>
<polygon points="154.80,22.40 158.10,25.07 156.84,29.40 152.76,29.40 151.50,25.07" fill="#800080"/>
<polygon points="162.40,21.40 165.70,24.07 164.44,28.40 160.36,28.40 159.10,24.07" fill="#800080"/>
<polygon points="174.30,15.40 177.60,18.07 176.34,22.40 172.26,22.40 171.00,18.07" fill="#800080"/>
<polygon points="185.30,18.20 188.60,20.87 187.34,25.20 183.26,25.20 182.00,20.87" fill="#800080"/>
<polygon points="194.00,14.80 197.30,17.47 196.04,21.80 191.96,21.80 190.70,17.47" fill="#800080"/>
<line x1="206.40" y1="14.30" x2="211.40" y2="14.30" stroke="#262626" stroke-width="1.3"/>
<line x1="219.80" y1="14.30" x2="225.00" y2="14.30" stroke="#262626" stroke-width="1.3"/>
<rect x="213.10" y="11.30" width="4.80" height="6.00" fill="#000"/>
<text transform="translate(226.72,18.00) scale(0.8897,1)" font-size="11.2" fill="#111" >3.0</text>
<text transform="translate(241.40,18.00) scale(0.8527,1)" font-size="11.2" fill="#111" >mmol/L</text>
<line x1="206.40" y1="28.76" x2="211.40" y2="28.76" stroke="#262626" stroke-width="1.3"/>
<line x1="219.80" y1="28.76" x2="225.00" y2="28.76" stroke="#262626" stroke-width="1.3"/>
<ellipse cx="215.50" cy="28.76" rx="2.95" ry="3.50" fill="#ff0000"/>
<text transform="translate(226.62,32.46) scale(0.8976,1)" font-size="11.2" fill="#111" >5.0</text>
<text transform="translate(241.40,32.46) scale(0.8527,1)" font-size="11.2" fill="#111" >mmol/L</text>
<line x1="206.40" y1="43.22" x2="211.40" y2="43.22" stroke="#262626" stroke-width="1.3"/>
<line x1="219.80" y1="43.22" x2="225.00" y2="43.22" stroke="#262626" stroke-width="1.3"/>
<polygon points="215.50,39.62 219.00,46.82 212.00,46.82" fill="#00ff00"/>
<text transform="translate(226.53,46.92) scale(0.9038,1)" font-size="11.2" fill="#111" >7.0</text>
<text transform="translate(241.40,46.92) scale(0.8527,1)" font-size="11.2" fill="#111" >mmol/L</text>
<line x1="206.40" y1="57.68" x2="211.40" y2="57.68" stroke="#262626" stroke-width="1.3"/>
<line x1="219.80" y1="57.68" x2="225.00" y2="57.68" stroke="#262626" stroke-width="1.3"/>
<polygon points="215.50,61.28 219.00,54.08 212.00,54.08" fill="#0000ff"/>
<text transform="translate(226.53,61.38) scale(0.9045,1)" font-size="11.2" fill="#111" >7.5</text>
<text transform="translate(241.40,61.38) scale(0.8527,1)" font-size="11.2" fill="#111" >mmol/L</text>
<line x1="206.40" y1="72.14" x2="211.40" y2="72.14" stroke="#262626" stroke-width="1.3"/>
<line x1="219.80" y1="72.14" x2="225.00" y2="72.14" stroke="#262626" stroke-width="1.3"/>
<polygon points="215.50,67.64 219.00,72.14 215.50,76.64 212.00,72.14" fill="#00ffff"/>
<text transform="translate(226.82,75.84) scale(0.8823,1)" font-size="11.2" fill="#111" >8.0</text>
<text transform="translate(241.40,75.84) scale(0.8527,1)" font-size="11.2" fill="#111" >mmol/L</text>
<line x1="206.40" y1="86.60" x2="211.40" y2="86.60" stroke="#262626" stroke-width="1.3"/>
<line x1="219.80" y1="86.60" x2="225.00" y2="86.60" stroke="#262626" stroke-width="1.3"/>
<polygon points="212.40,86.60 218.60,82.40 218.60,90.80" fill="#ff00ff"/>
<text transform="translate(226.43,90.30) scale(0.9807,1)" font-size="11.2" fill="#111" >10</text>
<text transform="translate(241.40,90.30) scale(0.8527,1)" font-size="11.2" fill="#111" >mmol/L</text>
<line x1="206.40" y1="101.06" x2="211.40" y2="101.06" stroke="#262626" stroke-width="1.3"/>
<line x1="219.80" y1="101.06" x2="225.00" y2="101.06" stroke="#262626" stroke-width="1.3"/>
<polygon points="218.60,101.06 212.40,96.86 212.40,105.26" fill="#ffff00"/>
<text transform="translate(226.42,104.76) scale(1.0002,1)" font-size="11.2" fill="#111" >12</text>
<text transform="translate(241.40,104.76) scale(0.8527,1)" font-size="11.2" fill="#111" >mmol/L</text>
<line x1="206.40" y1="115.52" x2="211.40" y2="115.52" stroke="#262626" stroke-width="1.3"/>
<line x1="219.80" y1="115.52" x2="225.00" y2="115.52" stroke="#262626" stroke-width="1.3"/>
<polygon points="215.50,111.57 218.60,113.55 218.60,117.49 215.50,119.47 212.40,117.50 212.40,113.55" fill="#808000"/>
<text transform="translate(226.43,119.22) scale(0.9818,1)" font-size="11.2" fill="#111" >13</text>
<text transform="translate(241.40,119.22) scale(0.8527,1)" font-size="11.2" fill="#111" >mmol/L</text>
<line x1="206.40" y1="129.98" x2="211.40" y2="129.98" stroke="#262626" stroke-width="1.3"/>
<line x1="219.80" y1="129.98" x2="225.00" y2="129.98" stroke="#262626" stroke-width="1.3"/>
<polygon points="215.50,126.28 216.54,128.78 219.00,129.11 217.18,130.98 217.66,133.68 215.50,132.33 213.34,133.68 213.82,130.98 212.00,129.11 214.46,128.78" fill="#000080"/>
<text transform="translate(226.46,133.68) scale(0.9561,1)" font-size="11.2" fill="#111" >14</text>
<text transform="translate(241.40,133.68) scale(0.8527,1)" font-size="11.2" fill="#111" >mmol/L</text>
<line x1="206.40" y1="144.44" x2="211.40" y2="144.44" stroke="#262626" stroke-width="1.3"/>
<line x1="219.80" y1="144.44" x2="225.00" y2="144.44" stroke="#262626" stroke-width="1.3"/>
<polygon points="215.50,140.94 218.80,143.61 217.54,147.94 213.46,147.94 212.20,143.61" fill="#800080"/>
<text transform="translate(226.43,148.14) scale(0.9818,1)" font-size="11.2" fill="#111" >15</text>
<text transform="translate(241.40,148.14) scale(0.8527,1)" font-size="11.2" fill="#111" >mmol/L</text>
<line x1="317.40" y1="61.60" x2="477.00" y2="61.60" stroke="#1a1a1a" stroke-width="1.4"/>
<line x1="318.60" y1="122.70" x2="472.20" y2="122.70" stroke="#1a1a1a" stroke-width="1.4"/>
<line x1="316.70" y1="164.50" x2="469.00" y2="164.50" stroke="#1a1a1a" stroke-width="1.4"/>
<line x1="316.70" y1="191.70" x2="470.00" y2="191.70" stroke="#1a1a1a" stroke-width="1.4"/>
<line x1="316.70" y1="223.40" x2="466.00" y2="223.40" stroke="#1a1a1a" stroke-width="1.4"/>
<rect x="319.60" y="221.40" width="5.00" height="6.20" fill="#e8141c"/>
<rect x="330.30" y="220.40" width="5.00" height="6.20" fill="#e8141c"/>
<rect x="341.80" y="219.10" width="5.00" height="6.20" fill="#e8141c"/>
<rect x="352.40" y="220.40" width="5.00" height="6.20" fill="#e8141c"/>
<rect x="363.10" y="221.10" width="5.00" height="6.20" fill="#e8141c"/>
<rect x="373.90" y="220.40" width="5.00" height="6.20" fill="#e8141c"/>
<rect x="385.70" y="217.70" width="5.00" height="6.20" fill="#e8141c"/>
<rect x="397.10" y="223.30" width="5.00" height="6.20" fill="#e8141c"/>
<rect x="408.50" y="222.90" width="5.00" height="6.20" fill="#e8141c"/>
<rect x="418.70" y="222.90" width="5.00" height="6.20" fill="#e8141c"/>
<rect x="428.90" y="219.10" width="5.00" height="6.20" fill="#e8141c"/>
<rect x="439.50" y="217.70" width="5.00" height="6.20" fill="#e8141c"/>
<rect x="452.70" y="220.40" width="5.00" height="6.20" fill="#e8141c"/>
<rect x="464.20" y="223.30" width="5.00" height="6.20" fill="#e8141c"/>
<ellipse cx="320.50" cy="219.20" rx="2.95" ry="3.30" fill="#2b62ad"/>
<ellipse cx="331.30" cy="219.30" rx="2.95" ry="3.30" fill="#2b62ad"/>
<ellipse cx="342.00" cy="214.80" rx="2.95" ry="3.30" fill="#2b62ad"/>
<ellipse cx="352.10" cy="217.60" rx="2.95" ry="3.30" fill="#2b62ad"/>
<ellipse cx="363.10" cy="222.60" rx="2.95" ry="3.30" fill="#2b62ad"/>
<ellipse cx="374.80" cy="222.60" rx="2.95" ry="3.30" fill="#2b62ad"/>
<ellipse cx="385.60" cy="222.00" rx="2.95" ry="3.30" fill="#2b62ad"/>
<ellipse cx="396.50" cy="220.50" rx="2.95" ry="3.30" fill="#2b62ad"/>
<ellipse cx="408.20" cy="219.80" rx="2.95" ry="3.30" fill="#2b62ad"/>
<ellipse cx="418.10" cy="224.00" rx="2.95" ry="3.30" fill="#2b62ad"/>
<ellipse cx="429.80" cy="222.60" rx="2.95" ry="3.30" fill="#2b62ad"/>
<ellipse cx="441.30" cy="222.00" rx="2.95" ry="3.30" fill="#2b62ad"/>
<ellipse cx="452.70" cy="220.50" rx="2.95" ry="3.30" fill="#2b62ad"/>
<ellipse cx="463.90" cy="223.20" rx="2.95" ry="3.30" fill="#2b62ad"/>
<polygon points="319.80,190.20 322.90,196.40 316.70,196.40" fill="#f5b800"/>
<polygon points="331.00,191.70 334.10,197.90 327.90,197.90" fill="#f5b800"/>
<polygon points="341.40,193.90 344.50,200.10 338.30,200.10" fill="#f5b800"/>
<polygon points="352.60,185.50 355.70,191.70 349.50,191.70" fill="#f5b800"/>
<polygon points="363.10,187.70 366.20,193.90 360.00,193.90" fill="#f5b800"/>
<polygon points="375.40,187.10 378.50,193.30 372.30,193.30" fill="#f5b800"/>
<polygon points="387.20,187.70 390.30,193.90 384.10,193.90" fill="#f5b800"/>
<polygon points="398.90,190.20 402.00,196.40 395.80,196.40" fill="#f5b800"/>
<polygon points="410.40,187.10 413.50,193.30 407.30,193.30" fill="#f5b800"/>
<polygon points="421.80,185.50 424.90,191.70 418.70,191.70" fill="#f5b800"/>
<polygon points="432.90,187.70 436.00,193.90 429.80,193.90" fill="#f5b800"/>
<polygon points="444.40,184.00 447.50,190.20 441.30,190.20" fill="#f5b800"/>
<polygon points="455.20,188.60 458.30,194.80 452.10,194.80" fill="#f5b800"/>
<polygon points="466.60,190.20 469.70,196.40 463.50,196.40" fill="#f5b800"/>
<polygon points="319.80,167.00 322.90,160.80 316.70,160.80" fill="#2eb86c"/>
<polygon points="332.20,170.10 335.30,163.90 329.10,163.90" fill="#2eb86c"/>
<polygon points="343.30,172.30 346.40,166.10 340.20,166.10" fill="#2eb86c"/>
<polygon points="353.80,167.90 356.90,161.70 350.70,161.70" fill="#2eb86c"/>
<polygon points="363.10,166.10 366.20,159.90 360.00,159.90" fill="#2eb86c"/>
<polygon points="374.20,167.00 377.30,160.80 371.10,160.80" fill="#2eb86c"/>
<polygon points="385.60,172.30 388.70,166.10 382.50,166.10" fill="#2eb86c"/>
<polygon points="397.10,167.00 400.20,160.80 394.00,160.80" fill="#2eb86c"/>
<polygon points="408.80,168.60 411.90,162.40 405.70,162.40" fill="#2eb86c"/>
<polygon points="419.60,170.70 422.70,164.50 416.50,164.50" fill="#2eb86c"/>
<polygon points="430.50,171.60 433.60,165.40 427.40,165.40" fill="#2eb86c"/>
<polygon points="442.20,165.50 445.30,159.30 439.10,159.30" fill="#2eb86c"/>
<polygon points="453.60,167.60 456.70,161.40 450.50,161.40" fill="#2eb86c"/>
<polygon points="465.10,166.10 468.20,159.90 462.00,159.90" fill="#2eb86c"/>
<polygon points="319.80,121.50 323.10,125.50 319.80,129.50 316.50,125.50" fill="#5555a0"/>
<polygon points="331.00,118.40 334.30,122.40 331.00,126.40 327.70,122.40" fill="#5555a0"/>
<polygon points="342.40,116.80 345.70,120.80 342.40,124.80 339.10,120.80" fill="#5555a0"/>
<polygon points="352.60,119.00 355.90,123.00 352.60,127.00 349.30,123.00" fill="#5555a0"/>
<polygon points="364.00,116.20 367.30,120.20 364.00,124.20 360.70,120.20" fill="#5555a0"/>
<polygon points="374.80,117.70 378.10,121.70 374.80,125.70 371.50,121.70" fill="#5555a0"/>
<polygon points="386.60,118.40 389.90,122.40 386.60,126.40 383.30,122.40" fill="#5555a0"/>
<polygon points="399.00,119.00 402.30,123.00 399.00,127.00 395.70,123.00" fill="#5555a0"/>
<polygon points="409.40,120.50 412.70,124.50 409.40,128.50 406.10,124.50" fill="#5555a0"/>
<polygon points="420.60,117.40 423.90,121.40 420.60,125.40 417.30,121.40" fill="#5555a0"/>
<polygon points="431.10,117.70 434.40,121.70 431.10,125.70 427.80,121.70" fill="#5555a0"/>
<polygon points="442.80,113.70 446.10,117.70 442.80,121.70 439.50,117.70" fill="#5555a0"/>
<polygon points="454.30,117.70 457.60,121.70 454.30,125.70 451.00,121.70" fill="#5555a0"/>
<polygon points="466.00,119.00 469.30,123.00 466.00,127.00 462.70,123.00" fill="#5555a0"/>
<polygon points="317.00,59.50 323.20,55.60 323.20,63.40" fill="#8e8e8e"/>
<polygon points="328.40,58.90 334.60,55.00 334.60,62.80" fill="#8e8e8e"/>
<polygon points="339.90,60.00 346.10,56.10 346.10,63.90" fill="#8e8e8e"/>
<polygon points="351.30,58.90 357.50,55.00 357.50,62.80" fill="#8e8e8e"/>
<polygon points="363.30,63.30 369.50,59.40 369.50,67.20" fill="#8e8e8e"/>
<polygon points="372.90,58.60 379.10,54.70 379.10,62.50" fill="#8e8e8e"/>
<polygon points="384.90,61.00 391.10,57.10 391.10,64.90" fill="#8e8e8e"/>
<polygon points="395.90,65.00 402.10,61.10 402.10,68.90" fill="#8e8e8e"/>
<polygon points="408.90,57.00 415.10,53.10 415.10,60.90" fill="#8e8e8e"/>
<polygon points="419.90,61.00 426.10,57.10 426.10,64.90" fill="#8e8e8e"/>
<polygon points="431.90,64.60 438.10,60.70 438.10,68.50" fill="#8e8e8e"/>
<polygon points="442.90,62.00 449.10,58.10 449.10,65.90" fill="#8e8e8e"/>
<polygon points="453.90,64.00 460.10,60.10 460.10,67.90" fill="#8e8e8e"/>
<polygon points="465.90,60.00 472.10,56.10 472.10,63.90" fill="#8e8e8e"/>
<polygon points="324.30,64.40 318.10,60.50 318.10,68.30" fill="#f25c5c"/>
<polygon points="334.60,61.10 328.40,57.20 328.40,65.00" fill="#f25c5c"/>
<polygon points="348.30,63.80 342.10,59.90 342.10,67.70" fill="#f25c5c"/>
<polygon points="359.70,61.10 353.50,57.20 353.50,65.00" fill="#f25c5c"/>
<polygon points="371.20,59.50 365.00,55.60 365.00,63.40" fill="#f25c5c"/>
<polygon points="381.10,60.60 374.90,56.70 374.90,64.50" fill="#f25c5c"/>
<polygon points="393.10,62.60 386.90,58.70 386.90,66.50" fill="#f25c5c"/>
<polygon points="405.10,59.00 398.90,55.10 398.90,62.90" fill="#f25c5c"/>
<polygon points="416.10,58.00 409.90,54.10 409.90,61.90" fill="#f25c5c"/>
<polygon points="427.10,60.60 420.90,56.70 420.90,64.50" fill="#f25c5c"/>
<polygon points="442.10,59.00 435.90,55.10 435.90,62.90" fill="#f25c5c"/>
<polygon points="452.10,64.00 445.90,60.10 445.90,67.90" fill="#f25c5c"/>
<polygon points="464.10,60.00 457.90,56.10 457.90,63.90" fill="#f25c5c"/>
<polygon points="476.10,64.60 469.90,60.70 469.90,68.50" fill="#f25c5c"/>
<rect x="483.60" y="10.20" width="4.80" height="5.60" fill="#e8141c"/>
<text transform="translate(497.25,16.90) scale(0.8108,1)" font-size="11.6" fill="#111" >5.0 mmol/L</text>
<ellipse cx="486.00" cy="27.43" rx="2.90" ry="3.20" fill="#2b62ad"/>
<text transform="translate(497.18,31.33) scale(0.8121,1)" font-size="11.6" fill="#111" >7.0 mmol/L</text>
<polygon points="486.00,38.66 489.30,45.06 482.70,45.06" fill="#f5b800"/>
<text transform="translate(497.16,45.76) scale(0.8194,1)" font-size="11.6" fill="#111" >10 mmol/L</text>
<polygon points="486.00,59.49 489.30,53.09 482.70,53.09" fill="#2eb86c"/>
<text transform="translate(497.16,60.19) scale(0.8194,1)" font-size="11.6" fill="#111" >15 mmol/L</text>
<polygon points="486.00,66.72 489.20,70.72 486.00,74.72 482.80,70.72" fill="#5555a0"/>
<text transform="translate(497.59,74.62) scale(0.8111,1)" font-size="11.6" fill="#111" >20 mmol/L</text>
<polygon points="483.10,85.15 488.90,81.35 488.90,88.95" fill="#8e8e8e"/>
<text transform="translate(497.59,89.05) scale(0.8111,1)" font-size="11.6" fill="#111" >25 mmol/L</text>
<polygon points="488.90,99.58 483.10,95.78 483.10,103.38" fill="#f25c5c"/>
<text transform="translate(497.55,103.48) scale(0.8118,1)" font-size="11.6" fill="#111" >30 mmol/L</text>
<path d="M53.10,481.50L55.47,481.50M60.67,481.50L63.04,481.50M68.24,481.50L70.61,481.50M75.81,481.50L78.18,481.50M83.38,481.50L85.75,481.50M90.95,481.50L93.32,481.50M98.52,481.50L100.89,481.50M106.09,481.50L108.46,481.50M113.66,481.50L116.03,481.50M121.23,481.50L123.60,481.50M128.80,481.50L131.17,481.50M136.37,481.50L138.74,481.50M143.94,481.50L146.31,481.50M151.51,481.50L153.88,481.50M159.08,481.50L161.45,481.50M166.65,481.50L169.02,481.50M174.22,481.50L176.59,481.50M181.79,481.50L184.16,481.50M189.36,481.50L191.73,481.50M196.93,481.50L199.30,481.50" fill="none" stroke="#999" stroke-width="0.9"/>
<rect x="48.80" y="479.40" width="3.40" height="4.20" fill="#000"/>
<rect x="56.37" y="479.40" width="3.40" height="4.20" fill="#000"/>
<rect x="63.94" y="479.40" width="3.40" height="4.20" fill="#000"/>
<rect x="71.51" y="479.40" width="3.40" height="4.20" fill="#000"/>
<rect x="79.08" y="479.40" width="3.40" height="4.20" fill="#000"/>
<rect x="86.65" y="479.40" width="3.40" height="4.20" fill="#000"/>
<rect x="94.22" y="479.40" width="3.40" height="4.20" fill="#000"/>
<rect x="101.79" y="479.40" width="3.40" height="4.20" fill="#000"/>
<rect x="109.36" y="479.40" width="3.40" height="4.20" fill="#000"/>
<rect x="116.93" y="479.40" width="3.40" height="4.20" fill="#000"/>
<rect x="124.50" y="479.40" width="3.40" height="4.20" fill="#000"/>
<rect x="132.07" y="479.40" width="3.40" height="4.20" fill="#000"/>
<rect x="139.64" y="479.40" width="3.40" height="4.20" fill="#000"/>
<rect x="147.21" y="479.40" width="3.40" height="4.20" fill="#000"/>
<rect x="154.78" y="479.40" width="3.40" height="4.20" fill="#000"/>
<rect x="162.35" y="479.40" width="3.40" height="4.20" fill="#000"/>
<rect x="169.92" y="479.40" width="3.40" height="4.20" fill="#000"/>
<rect x="177.49" y="479.40" width="3.40" height="4.20" fill="#000"/>
<rect x="185.06" y="479.40" width="3.40" height="4.20" fill="#000"/>
<rect x="192.63" y="479.40" width="3.40" height="4.20" fill="#000"/>
<rect x="200.20" y="479.40" width="3.40" height="4.20" fill="#000"/>
<ellipse cx="51.00" cy="480.80" rx="2.75" ry="3.20" fill="#ff0000"/>
<ellipse cx="58.55" cy="481.50" rx="2.75" ry="3.20" fill="#ff0000"/>
<ellipse cx="66.10" cy="481.50" rx="2.75" ry="3.20" fill="#ff0000"/>
<ellipse cx="73.65" cy="480.80" rx="2.75" ry="3.20" fill="#ff0000"/>
<ellipse cx="81.20" cy="481.50" rx="2.75" ry="3.20" fill="#ff0000"/>
<ellipse cx="88.75" cy="481.50" rx="2.75" ry="3.20" fill="#ff0000"/>
<ellipse cx="96.30" cy="480.80" rx="2.75" ry="3.20" fill="#ff0000"/>
<ellipse cx="103.85" cy="481.50" rx="2.75" ry="3.20" fill="#ff0000"/>
<ellipse cx="111.40" cy="481.50" rx="2.75" ry="3.20" fill="#ff0000"/>
<ellipse cx="118.95" cy="480.80" rx="2.75" ry="3.20" fill="#ff0000"/>
<ellipse cx="126.50" cy="481.50" rx="2.75" ry="3.20" fill="#ff0000"/>
<ellipse cx="134.05" cy="481.50" rx="2.75" ry="3.20" fill="#ff0000"/>
<ellipse cx="141.60" cy="480.80" rx="2.75" ry="3.20" fill="#ff0000"/>
<ellipse cx="149.15" cy="481.50" rx="2.75" ry="3.20" fill="#ff0000"/>
<ellipse cx="156.70" cy="481.50" rx="2.75" ry="3.20" fill="#ff0000"/>
<ellipse cx="164.25" cy="480.80" rx="2.75" ry="3.20" fill="#ff0000"/>
<ellipse cx="171.80" cy="481.50" rx="2.75" ry="3.20" fill="#ff0000"/>
<ellipse cx="179.35" cy="481.50" rx="2.75" ry="3.20" fill="#ff0000"/>
<ellipse cx="186.90" cy="480.80" rx="2.75" ry="3.20" fill="#ff0000"/>
<ellipse cx="194.45" cy="481.50" rx="2.75" ry="3.20" fill="#ff0000"/>
<ellipse cx="202.00" cy="481.50" rx="2.75" ry="3.20" fill="#ff0000"/>
<polygon points="50.50,477.05 53.75,483.55 47.25,483.55" fill="#0000ff"/>
<polygon points="58.07,477.75 61.32,484.25 54.82,484.25" fill="#0000ff"/>
<polygon points="65.64,477.05 68.89,483.55 62.39,483.55" fill="#0000ff"/>
<polygon points="73.21,477.75 76.46,484.25 69.96,484.25" fill="#0000ff"/>
<polygon points="80.78,477.05 84.03,483.55 77.53,483.55" fill="#0000ff"/>
<polygon points="88.35,477.75 91.60,484.25 85.10,484.25" fill="#0000ff"/>
<polygon points="95.92,477.05 99.17,483.55 92.67,483.55" fill="#0000ff"/>
<polygon points="103.49,477.75 106.74,484.25 100.24,484.25" fill="#0000ff"/>
<polygon points="111.06,477.05 114.31,483.55 107.81,483.55" fill="#0000ff"/>
<polygon points="118.63,477.75 121.88,484.25 115.38,484.25" fill="#0000ff"/>
<polygon points="126.20,477.05 129.45,483.55 122.95,483.55" fill="#0000ff"/>
<polygon points="133.77,477.75 137.02,484.25 130.52,484.25" fill="#0000ff"/>
<polygon points="141.34,477.05 144.59,483.55 138.09,483.55" fill="#0000ff"/>
<polygon points="148.91,477.75 152.16,484.25 145.66,484.25" fill="#0000ff"/>
<polygon points="156.48,477.05 159.73,483.55 153.23,483.55" fill="#0000ff"/>
<polygon points="164.05,477.75 167.30,484.25 160.80,484.25" fill="#0000ff"/>
<polygon points="171.62,477.05 174.87,483.55 168.37,483.55" fill="#0000ff"/>
<polygon points="179.19,477.75 182.44,484.25 175.94,484.25" fill="#0000ff"/>
<polygon points="186.76,477.05 190.01,483.55 183.51,483.55" fill="#0000ff"/>
<polygon points="194.33,477.75 197.58,484.25 191.08,484.25" fill="#0000ff"/>
<polygon points="201.90,477.05 205.15,483.55 198.65,483.55" fill="#0000ff"/>
<path d="M195.76,459.73L196.04,459.57" fill="none" stroke="#262626" stroke-width="1.2" stroke-dasharray="4.2,1.5"/>
<polygon points="49.80,488.80 53.10,482.20 46.50,482.20" fill="#008080"/>
<polygon points="57.00,486.20 60.30,479.60 53.70,479.60" fill="#008080"/>
<polygon points="64.70,485.90 68.00,479.30 61.40,479.30" fill="#008080"/>
<polygon points="72.30,485.50 75.60,478.90 69.00,478.90" fill="#008080"/>
<polygon points="80.00,485.30 83.30,478.70 76.70,478.70" fill="#008080"/>
<polygon points="87.50,484.90 90.80,478.30 84.20,478.30" fill="#008080"/>
<polygon points="95.00,484.30 98.30,477.70 91.70,477.70" fill="#008080"/>
<polygon points="102.80,482.90 106.10,476.30 99.50,476.30" fill="#008080"/>
<polygon points="110.50,481.40 113.80,474.80 107.20,474.80" fill="#008080"/>
<polygon points="118.10,479.70 121.40,473.10 114.80,473.10" fill="#008080"/>
<polygon points="125.70,477.50 129.00,470.90 122.40,470.90" fill="#008080"/>
<polygon points="132.30,476.40 135.60,469.80 129.00,469.80" fill="#008080"/>
<polygon points="139.90,473.60 143.20,467.00 136.60,467.00" fill="#008080"/>
<polygon points="147.60,472.70 150.90,466.10 144.30,466.10" fill="#008080"/>
<polygon points="155.10,471.50 158.40,464.90 151.80,464.90" fill="#008080"/>
<polygon points="162.40,470.00 165.70,463.40 159.10,463.40" fill="#008080"/>
<polygon points="169.80,467.30 173.10,460.70 166.50,460.70" fill="#008080"/>
<polygon points="176.80,466.70 180.10,460.10 173.50,460.10" fill="#008080"/>
<polygon points="185.10,465.80 188.40,459.20 181.80,459.20" fill="#008080"/>
<polygon points="192.10,465.10 195.40,458.50 188.80,458.50" fill="#008080"/>
<polygon points="199.70,460.80 203.00,454.20 196.40,454.20" fill="#008080"/>
<path d="M53.42,480.80L54.48,480.30M114.27,466.92L115.03,466.68M122.63,464.64L122.97,464.56M130.66,463.04L131.74,462.86" fill="none" stroke="#262626" stroke-width="1.2" stroke-dasharray="4.2,1.5"/>
<polygon points="46.80,482.50 52.80,478.75 52.80,486.25" fill="#ff00ff"/>
<polygon points="55.10,478.60 61.10,474.85 61.10,482.35" fill="#ff00ff"/>
<polygon points="62.70,477.50 68.70,473.75 68.70,481.25" fill="#ff00ff"/>
<polygon points="70.40,476.40 76.40,472.65 76.40,480.15" fill="#ff00ff"/>
<polygon points="78.00,475.30 84.00,471.55 84.00,479.05" fill="#ff00ff"/>
<polygon points="85.60,474.20 91.60,470.45 91.60,477.95" fill="#ff00ff"/>
<polygon points="92.60,473.10 98.60,469.35 98.60,476.85" fill="#ff00ff"/>
<polygon points="99.80,470.30 105.80,466.55 105.80,474.05" fill="#ff00ff"/>
<polygon points="107.50,468.10 113.50,464.35 113.50,471.85" fill="#ff00ff"/>
<polygon points="115.80,465.50 121.80,461.75 121.80,469.25" fill="#ff00ff"/>
<polygon points="123.80,463.70 129.80,459.95 129.80,467.45" fill="#ff00ff"/>
<polygon points="132.60,462.20 138.60,458.45 138.60,465.95" fill="#ff00ff"/>
<polygon points="139.80,459.40 145.80,455.65 145.80,463.15" fill="#ff00ff"/>
<polygon points="145.60,452.80 151.60,449.05 151.60,456.55" fill="#ff00ff"/>
<polygon points="153.20,454.20 159.20,450.45 159.20,457.95" fill="#ff00ff"/>
<polygon points="160.70,450.90 166.70,447.15 166.70,454.65" fill="#ff00ff"/>
<polygon points="168.40,448.10 174.40,444.35 174.40,451.85" fill="#ff00ff"/>
<polygon points="176.00,446.60 182.00,442.85 182.00,450.35" fill="#ff00ff"/>
<polygon points="183.60,445.00 189.60,441.25 189.60,448.75" fill="#ff00ff"/>
<polygon points="190.80,443.70 196.80,439.95 196.80,447.45" fill="#ff00ff"/>
<polygon points="197.80,440.70 203.80,436.95 203.80,444.45" fill="#ff00ff"/>
<path d="M53.96,477.70L54.54,477.30M61.44,472.67L62.26,472.13M69.29,467.79L69.81,467.51M83.09,459.43L84.31,458.37M90.72,452.88L91.98,451.82M113.46,445.22L115.14,443.48M128.33,436.21L129.27,435.29" fill="none" stroke="#262626" stroke-width="1.2" stroke-dasharray="4.2,1.5"/>
<polygon points="53.60,480.00 47.40,476.30 47.40,483.70" fill="#808000"/>
<polygon points="61.10,475.00 54.90,471.30 54.90,478.70" fill="#808000"/>
<polygon points="68.80,469.80 62.60,466.10 62.60,473.50" fill="#808000"/>
<polygon points="76.50,465.50 70.30,461.80 70.30,469.20" fill="#808000"/>
<polygon points="83.00,462.20 76.80,458.50 76.80,465.90" fill="#808000"/>
<polygon points="90.60,455.60 84.40,451.90 84.40,459.30" fill="#808000"/>
<polygon points="98.30,449.10 92.10,445.40 92.10,452.80" fill="#808000"/>
<polygon points="105.90,450.50 99.70,446.80 99.70,454.20" fill="#808000"/>
<polygon points="113.60,448.30 107.40,444.60 107.40,452.00" fill="#808000"/>
<polygon points="121.20,440.40 115.00,436.70 115.00,444.10" fill="#808000"/>
<polygon points="128.40,439.20 122.20,435.50 122.20,442.90" fill="#808000"/>
<polygon points="135.40,432.30 129.20,428.60 129.20,436.00" fill="#808000"/>
<polygon points="143.00,429.50 136.80,425.80 136.80,433.20" fill="#808000"/>
<polygon points="150.70,427.90 144.50,424.20 144.50,431.60" fill="#808000"/>
<polygon points="158.20,426.00 152.00,422.30 152.00,429.70" fill="#808000"/>
<polygon points="165.70,425.40 159.50,421.70 159.50,429.10" fill="#808000"/>
<polygon points="173.40,423.20 167.20,419.50 167.20,426.90" fill="#808000"/>
<polygon points="181.00,422.10 174.80,418.40 174.80,425.80" fill="#808000"/>
<polygon points="188.60,421.50 182.40,417.80 182.40,425.20" fill="#808000"/>
<polygon points="195.60,421.50 189.40,417.80 189.40,425.20" fill="#808000"/>
<polygon points="202.80,421.00 196.60,417.30 196.60,424.70" fill="#808000"/>
<path d="M54.48,476.99L55.22,476.61M62.68,471.62L63.32,471.08M70.29,465.12L71.51,464.08M86.11,456.79L87.59,454.91M93.87,448.06L94.43,447.54M131.32,428.00L132.08,427.90" fill="none" stroke="#eeeeb0" stroke-width="1.0"/>
<polygon points="50.50,474.90 53.95,479.00 50.50,483.10 47.05,479.00" fill="#000080"/>
<polygon points="59.20,470.50 62.65,474.60 59.20,478.70 55.75,474.60" fill="#000080"/>
<polygon points="66.80,464.00 70.25,468.10 66.80,472.20 63.35,468.10" fill="#000080"/>
<polygon points="75.00,457.00 78.45,461.10 75.00,465.20 71.55,461.10" fill="#000080"/>
<polygon points="83.20,456.40 86.65,460.50 83.20,464.60 79.75,460.50" fill="#000080"/>
<polygon points="90.50,447.10 93.95,451.20 90.50,455.30 87.05,451.20" fill="#000080"/>
<polygon points="97.80,440.30 101.25,444.40 97.80,448.50 94.35,444.40" fill="#000080"/>
<polygon points="105.00,435.90 108.45,440.00 105.00,444.10 101.55,440.00" fill="#000080"/>
<polygon points="112.20,431.20 115.65,435.30 112.20,439.40 108.75,435.30" fill="#000080"/>
<polygon points="119.20,428.10 122.65,432.20 119.20,436.30 115.75,432.20" fill="#000080"/>
<polygon points="127.00,424.50 130.45,428.60 127.00,432.70 123.55,428.60" fill="#000080"/>
<polygon points="136.40,423.20 139.85,427.30 136.40,431.40 132.95,427.30" fill="#000080"/>
<polygon points="143.60,417.70 147.05,421.80 143.60,425.90 140.15,421.80" fill="#000080"/>
<polygon points="151.20,416.60 154.65,420.70 151.20,424.80 147.75,420.70" fill="#000080"/>
<polygon points="158.40,414.60 161.85,418.70 158.40,422.80 154.95,418.70" fill="#000080"/>
<polygon points="165.80,412.00 169.25,416.10 165.80,420.20 162.35,416.10" fill="#000080"/>
<polygon points="173.50,409.70 176.95,413.80 173.50,417.90 170.05,413.80" fill="#000080"/>
<polygon points="180.70,406.40 184.15,410.50 180.70,414.60 177.25,410.50" fill="#000080"/>
<polygon points="187.70,403.80 191.15,407.90 187.70,412.00 184.25,407.90" fill="#000080"/>
<polygon points="195.40,401.00 198.85,405.10 195.40,409.20 191.95,405.10" fill="#000080"/>
<polygon points="203.00,398.80 206.45,402.90 203.00,407.00 199.55,402.90" fill="#000080"/>
<path d="M53.23,473.40L55.77,470.60M61.56,465.00L64.04,462.90M69.50,456.99L72.30,453.11M77.16,446.54L79.34,443.66M84.90,437.86L85.90,437.04M91.91,431.71L93.49,430.19M98.80,424.09L101.10,420.91M106.32,414.70L107.98,413.00M128.89,402.93L129.31,402.77" fill="none" stroke="#262626" stroke-width="1.2" stroke-dasharray="4.2,1.5"/>
<polygon points="50.50,473.10 53.50,475.62 52.35,479.70 48.65,479.70 47.50,475.62" fill="#800000"/>
<polygon points="58.50,464.30 61.50,466.82 60.35,470.90 56.65,470.90 55.50,466.82" fill="#800000"/>
<polygon points="67.10,457.00 70.10,459.52 68.95,463.60 65.25,463.60 64.10,459.52" fill="#800000"/>
<polygon points="74.70,446.50 77.70,449.02 76.55,453.10 72.85,453.10 71.70,449.02" fill="#800000"/>
<polygon points="81.80,437.10 84.80,439.62 83.65,443.70 79.95,443.70 78.80,439.62" fill="#800000"/>
<polygon points="89.00,431.20 92.00,433.72 90.85,437.80 87.15,437.80 86.00,433.72" fill="#800000"/>
<polygon points="96.40,424.10 99.40,426.62 98.25,430.70 94.55,430.70 93.40,426.62" fill="#800000"/>
<polygon points="103.50,414.30 106.50,416.82 105.35,420.90 101.65,420.90 100.50,416.82" fill="#800000"/>
<polygon points="110.80,406.80 113.80,409.32 112.65,413.40 108.95,413.40 107.80,409.32" fill="#800000"/>
<polygon points="118.00,404.30 121.00,406.82 119.85,410.90 116.15,410.90 115.00,406.82" fill="#800000"/>
<polygon points="125.20,401.00 128.20,403.52 127.05,407.60 123.35,407.60 122.20,403.52" fill="#800000"/>
<polygon points="133.00,398.10 136.00,400.62 134.85,404.70 131.15,404.70 130.00,400.62" fill="#800000"/>
<polygon points="140.60,397.20 143.60,399.72 142.45,403.80 138.75,403.80 137.60,399.72" fill="#800000"/>
<polygon points="147.60,396.50 150.60,399.02 149.45,403.10 145.75,403.10 144.60,399.02" fill="#800000"/>
<polygon points="155.00,393.70 158.00,396.22 156.85,400.30 153.15,400.30 152.00,396.22" fill="#800000"/>
<polygon points="162.30,391.30 165.30,393.82 164.15,397.90 160.45,397.90 159.30,393.82" fill="#800000"/>
<polygon points="169.50,389.90 172.50,392.42 171.35,396.50 167.65,396.50 166.50,392.42" fill="#800000"/>
<polygon points="176.70,389.60 179.70,392.12 178.55,396.20 174.85,396.20 173.70,392.12" fill="#800000"/>
<polygon points="184.20,390.70 187.20,393.22 186.05,397.30 182.35,397.30 181.20,393.22" fill="#800000"/>
<polygon points="191.60,390.70 194.60,393.22 193.45,397.30 189.75,397.30 188.60,393.22" fill="#800000"/>
<polygon points="199.30,390.10 202.30,392.62 201.15,396.70 197.45,396.70 196.30,392.62" fill="#800000"/>
<path d="M51.96,465.60L57.04,452.40M60.60,445.21L64.20,439.39M68.86,433.05L70.84,430.75M75.75,424.64L78.05,421.56M83.03,415.53L85.57,412.77M90.99,407.23L92.71,405.57M98.51,400.57L99.99,399.43M113.93,394.70L114.67,394.40M120.82,390.24L122.48,388.56M128.14,383.36L129.26,382.44M135.75,379.05L136.15,378.95M143.05,376.37L143.75,376.03M165.00,368.65L166.20,368.25M180.54,367.47L180.96,367.43" fill="none" stroke="#262626" stroke-width="1.2" stroke-dasharray="4.2,1.5"/>
<polygon points="50.50,466.15 53.25,467.77 53.25,471.02 50.50,472.65 47.75,471.02 47.75,467.77" fill="#f0148c"/>
<polygon points="58.50,445.35 61.25,446.98 61.25,450.23 58.50,451.85 55.75,450.23 55.75,446.98" fill="#f0148c"/>
<polygon points="66.30,432.75 69.05,434.38 69.05,437.62 66.30,439.25 63.55,437.62 63.55,434.38" fill="#f0148c"/>
<polygon points="73.40,424.55 76.15,426.18 76.15,429.43 73.40,431.05 70.65,429.43 70.65,426.18" fill="#f0148c"/>
<polygon points="80.40,415.15 83.15,416.77 83.15,420.02 80.40,421.65 77.65,420.02 77.65,416.77" fill="#f0148c"/>
<polygon points="88.20,406.65 90.95,408.27 90.95,411.52 88.20,413.15 85.45,411.52 85.45,408.27" fill="#f0148c"/>
<polygon points="95.50,399.65 98.25,401.27 98.25,404.52 95.50,406.15 92.75,404.52 92.75,401.27" fill="#f0148c"/>
<polygon points="103.00,393.85 105.75,395.48 105.75,398.73 103.00,400.35 100.25,398.73 100.25,395.48" fill="#f0148c"/>
<polygon points="110.50,392.85 113.25,394.48 113.25,397.73 110.50,399.35 107.75,397.73 107.75,394.48" fill="#f0148c"/>
<polygon points="118.10,389.75 120.85,391.38 120.85,394.62 118.10,396.25 115.35,394.62 115.35,391.38" fill="#f0148c"/>
<polygon points="125.20,382.55 127.95,384.18 127.95,387.43 125.20,389.05 122.45,387.43 122.45,384.18" fill="#f0148c"/>
<polygon points="132.20,376.75 134.95,378.38 134.95,381.62 132.20,383.25 129.45,381.62 129.45,378.38" fill="#f0148c"/>
<polygon points="139.70,374.75 142.45,376.38 142.45,379.62 139.70,381.25 136.95,379.62 136.95,376.38" fill="#f0148c"/>
<polygon points="147.10,371.15 149.85,372.77 149.85,376.02 147.10,377.65 144.35,376.02 144.35,372.77" fill="#f0148c"/>
<polygon points="154.20,368.45 156.95,370.07 156.95,373.32 154.20,374.95 151.45,373.32 151.45,370.07" fill="#f0148c"/>
<polygon points="161.50,366.55 164.25,368.18 164.25,371.43 161.50,373.05 158.75,371.43 158.75,368.18" fill="#f0148c"/>
<polygon points="169.70,363.85 172.45,365.48 172.45,368.73 169.70,370.35 166.95,368.73 166.95,365.48" fill="#f0148c"/>
<polygon points="176.90,364.55 179.65,366.18 179.65,369.43 176.90,371.05 174.15,369.43 174.15,366.18" fill="#f0148c"/>
<polygon points="184.60,363.85 187.35,365.48 187.35,368.73 184.60,370.35 181.85,368.73 181.85,365.48" fill="#f0148c"/>
<polygon points="191.80,363.85 194.55,365.48 194.55,368.73 191.80,370.35 189.05,368.73 189.05,365.48" fill="#f0148c"/>
<polygon points="199.20,363.85 201.95,365.48 201.95,368.73 199.20,370.35 196.45,368.73 196.45,365.48" fill="#f0148c"/>
<path d="M51.90,457.65L56.30,444.55M59.84,436.61L62.96,431.09M66.90,423.32L70.30,415.78M75.25,408.89L76.85,407.41M82.03,400.65L84.97,395.05M105.19,383.33L105.81,382.77M112.06,376.89L113.04,375.91M118.81,369.54L120.39,367.56M142.15,356.30L143.45,355.80M171.45,343.65L172.45,342.85M178.71,343.37L179.49,344.23M185.63,344.59L186.77,343.61" fill="none" stroke="#262626" stroke-width="1.2" stroke-dasharray="4.2,1.5"/>
<polygon points="50.50,458.30 51.48,460.67 53.80,460.97 52.08,462.74 52.54,465.30 50.50,464.03 48.46,465.30 48.92,462.74 47.20,460.97 49.52,460.67" fill="#1a7f26"/>
<polygon points="57.70,436.90 58.68,439.27 61.00,439.57 59.28,441.34 59.74,443.90 57.70,442.63 55.66,443.90 56.12,441.34 54.40,439.57 56.72,439.27" fill="#1a7f26"/>
<polygon points="65.10,423.80 66.08,426.17 68.40,426.47 66.68,428.24 67.14,430.80 65.10,429.53 63.06,430.80 63.52,428.24 61.80,426.47 64.12,426.17" fill="#1a7f26"/>
<polygon points="72.10,408.30 73.08,410.67 75.40,410.97 73.68,412.74 74.14,415.30 72.10,414.03 70.06,415.30 70.52,412.74 68.80,410.97 71.12,410.67" fill="#1a7f26"/>
<polygon points="80.00,401.00 80.98,403.37 83.30,403.67 81.58,405.44 82.04,408.00 80.00,406.73 77.96,408.00 78.42,405.44 76.70,403.67 79.02,403.37" fill="#1a7f26"/>
<polygon points="87.00,387.70 87.98,390.07 90.30,390.37 88.58,392.14 89.04,394.70 87.00,393.43 84.96,394.70 85.42,392.14 83.70,390.37 86.02,390.07" fill="#1a7f26"/>
<polygon points="95.30,387.70 96.28,390.07 98.60,390.37 96.88,392.14 97.34,394.70 95.30,393.43 93.26,394.70 93.72,392.14 92.00,390.37 94.32,390.07" fill="#1a7f26"/>
<polygon points="102.00,382.70 102.98,385.07 105.30,385.37 103.58,387.14 104.04,389.70 102.00,388.43 99.96,389.70 100.42,387.14 98.70,385.37 101.02,385.07" fill="#1a7f26"/>
<polygon points="109.00,376.40 109.98,378.77 112.30,379.07 110.58,380.84 111.04,383.40 109.00,382.13 106.96,383.40 107.42,380.84 105.70,379.07 108.02,378.77" fill="#1a7f26"/>
<polygon points="116.10,369.40 117.08,371.77 119.40,372.07 117.68,373.84 118.14,376.40 116.10,375.13 114.06,376.40 114.52,373.84 112.80,372.07 115.12,371.77" fill="#1a7f26"/>
<polygon points="123.10,360.70 124.08,363.07 126.40,363.37 124.68,365.14 125.14,367.70 123.10,366.43 121.06,367.70 121.52,365.14 119.80,363.37 122.12,363.07" fill="#1a7f26"/>
<polygon points="130.80,357.20 131.78,359.57 134.10,359.87 132.38,361.64 132.84,364.20 130.80,362.93 128.76,364.20 129.22,361.64 127.50,359.87 129.82,359.57" fill="#1a7f26"/>
<polygon points="138.20,354.30 139.18,356.67 141.50,356.97 139.78,358.74 140.24,361.30 138.20,360.03 136.16,361.30 136.62,358.74 134.90,356.97 137.22,356.67" fill="#1a7f26"/>
<polygon points="147.40,350.80 148.38,353.17 150.70,353.47 148.98,355.24 149.44,357.80 147.40,356.53 145.36,357.80 145.82,355.24 144.10,353.47 146.42,353.17" fill="#1a7f26"/>
<polygon points="153.70,346.30 154.68,348.67 157.00,348.97 155.28,350.74 155.74,353.30 153.70,352.03 151.66,353.30 152.12,350.74 150.40,348.97 152.72,348.67" fill="#1a7f26"/>
<polygon points="160.60,343.80 161.58,346.17 163.90,346.47 162.18,348.24 162.64,350.80 160.60,349.53 158.56,350.80 159.02,348.24 157.30,346.47 159.62,346.17" fill="#1a7f26"/>
<polygon points="168.10,342.80 169.08,345.17 171.40,345.47 169.68,347.24 170.14,349.80 168.10,348.53 166.06,349.80 166.52,347.24 164.80,345.47 167.12,345.17" fill="#1a7f26"/>
<polygon points="175.80,336.70 176.78,339.07 179.10,339.37 177.38,341.14 177.84,343.70 175.80,342.43 173.76,343.70 174.22,341.14 172.50,339.37 174.82,339.07" fill="#1a7f26"/>
<polygon points="182.40,343.90 183.38,346.27 185.70,346.57 183.98,348.34 184.44,350.90 182.40,349.63 180.36,350.90 180.82,348.34 179.10,346.57 181.42,346.27" fill="#1a7f26"/>
<polygon points="190.00,337.30 190.98,339.67 193.30,339.97 191.58,341.74 192.04,344.30 190.00,343.03 187.96,344.30 188.42,341.74 186.70,339.97 189.02,339.67" fill="#1a7f26"/>
<polygon points="197.70,337.30 198.68,339.67 201.00,339.97 199.28,341.74 199.74,344.30 197.70,343.03 195.66,344.30 196.12,341.74 194.40,339.97 196.72,339.67" fill="#1a7f26"/>
<path d="M52.86,433.83L55.14,430.57M59.00,423.25L63.20,412.15M67.95,405.99L68.35,405.71M74.99,401.58L77.91,399.92M84.77,396.25L87.73,394.75M93.18,389.33L96.02,384.07M100.76,377.46L103.14,374.94M109.25,369.99L110.05,369.51M123.87,364.42L124.63,363.98M131.57,360.53L131.93,360.37M138.69,356.58L139.61,355.92M146.06,351.41L147.14,350.69M160.74,344.00L161.26,343.60M167.99,339.78L168.91,339.42M175.64,335.59L177.06,334.51M183.66,330.32L183.94,330.18" fill="none" stroke="#262626" stroke-width="1.2"/>
<ellipse cx="50.50" cy="437.20" rx="2.90" ry="3.40" fill="url(#ballg)"/>
<ellipse cx="57.50" cy="427.20" rx="2.90" ry="3.40" fill="url(#ballg)"/>
<ellipse cx="64.70" cy="408.20" rx="2.90" ry="3.40" fill="url(#ballg)"/>
<ellipse cx="71.60" cy="403.50" rx="2.90" ry="3.40" fill="url(#ballg)"/>
<ellipse cx="81.30" cy="398.00" rx="2.90" ry="3.40" fill="url(#ballg)"/>
<ellipse cx="91.20" cy="393.00" rx="2.90" ry="3.40" fill="url(#ballg)"/>
<ellipse cx="98.00" cy="380.40" rx="2.90" ry="3.40" fill="url(#ballg)"/>
<ellipse cx="105.90" cy="372.00" rx="2.90" ry="3.40" fill="url(#ballg)"/>
<ellipse cx="113.40" cy="367.50" rx="2.90" ry="3.40" fill="url(#ballg)"/>
<ellipse cx="120.50" cy="366.40" rx="2.90" ry="3.40" fill="url(#ballg)"/>
<ellipse cx="128.00" cy="362.00" rx="2.90" ry="3.40" fill="url(#ballg)"/>
<ellipse cx="135.50" cy="358.90" rx="2.90" ry="3.40" fill="url(#ballg)"/>
<ellipse cx="142.80" cy="353.60" rx="2.90" ry="3.40" fill="url(#ballg)"/>
<ellipse cx="150.40" cy="348.50" rx="2.90" ry="3.40" fill="url(#ballg)"/>
<ellipse cx="157.60" cy="346.40" rx="2.90" ry="3.40" fill="url(#ballg)"/>
<ellipse cx="164.40" cy="341.20" rx="2.90" ry="3.40" fill="url(#ballg)"/>
<ellipse cx="172.50" cy="338.00" rx="2.90" ry="3.40" fill="url(#ballg)"/>
<ellipse cx="180.20" cy="332.10" rx="2.90" ry="3.40" fill="url(#ballg)"/>
<ellipse cx="187.40" cy="328.40" rx="2.90" ry="3.40" fill="url(#ballg)"/>
<ellipse cx="194.40" cy="329.40" rx="2.90" ry="3.40" fill="url(#ballg)"/>
<ellipse cx="201.00" cy="329.20" rx="2.90" ry="3.40" fill="url(#ballg)"/>
<path d="M52.65,404.10L55.95,399.80M61.30,397.18L61.90,397.22M67.44,394.83L70.06,391.97M75.47,388.36L76.43,388.04M81.71,384.27L83.99,381.43M88.06,375.62L91.34,370.18M95.04,364.01L99.16,357.09M103.06,351.11L105.14,348.19M110.11,343.74L111.59,342.96M117.47,339.99L119.33,339.11M125.09,335.86L126.61,334.84M131.66,330.33L134.74,326.67M140.02,322.75L140.98,322.35M146.78,319.25L148.42,318.15M153.81,314.12L155.79,312.48M161.37,308.89L163.23,308.01M168.92,304.61L171.68,302.59M177.15,298.68L178.95,297.42M184.90,295.50L185.70,295.50M192.10,295.50L192.90,295.50" fill="none" stroke="#262626" stroke-width="1.2"/>
<rect x="48.20" y="404.00" width="4.60" height="5.80" fill="#ff7f0e"/>
<rect x="55.80" y="394.10" width="4.60" height="5.80" fill="#ff7f0e"/>
<rect x="62.80" y="394.50" width="4.60" height="5.80" fill="#ff7f0e"/>
<rect x="70.10" y="386.50" width="4.60" height="5.80" fill="#ff7f0e"/>
<rect x="77.20" y="384.10" width="4.60" height="5.80" fill="#ff7f0e"/>
<rect x="83.90" y="375.80" width="4.60" height="5.80" fill="#ff7f0e"/>
<rect x="90.90" y="364.20" width="4.60" height="5.80" fill="#ff7f0e"/>
<rect x="98.70" y="351.10" width="4.60" height="5.80" fill="#ff7f0e"/>
<rect x="104.90" y="342.40" width="4.60" height="5.80" fill="#ff7f0e"/>
<rect x="112.20" y="338.50" width="4.60" height="5.80" fill="#ff7f0e"/>
<rect x="120.00" y="334.80" width="4.60" height="5.80" fill="#ff7f0e"/>
<rect x="127.10" y="330.10" width="4.60" height="5.80" fill="#ff7f0e"/>
<rect x="134.70" y="321.10" width="4.60" height="5.80" fill="#ff7f0e"/>
<rect x="141.70" y="318.20" width="4.60" height="5.80" fill="#ff7f0e"/>
<rect x="148.90" y="313.40" width="4.60" height="5.80" fill="#ff7f0e"/>
<rect x="156.10" y="307.40" width="4.60" height="5.80" fill="#ff7f0e"/>
<rect x="163.90" y="303.70" width="4.60" height="5.80" fill="#ff7f0e"/>
<rect x="172.10" y="297.70" width="4.60" height="5.80" fill="#ff7f0e"/>
<rect x="179.40" y="292.60" width="4.60" height="5.80" fill="#ff7f0e"/>
<rect x="186.60" y="292.60" width="4.60" height="5.80" fill="#ff7f0e"/>
<rect x="193.80" y="292.60" width="4.60" height="5.80" fill="#ff7f0e"/>
<line x1="204.40" y1="288.00" x2="209.80" y2="288.00" stroke="#999" stroke-width="1.2"/>
<line x1="218.00" y1="288.00" x2="223.30" y2="288.00" stroke="#999" stroke-width="1.2"/>
<rect x="212.20" y="285.90" width="3.40" height="4.20" fill="#000"/>
<text transform="translate(225.56,291.70) scale(0.8414,1)" font-size="10.6" fill="#111">0.03 mmol/L</text>
<line x1="204.40" y1="302.32" x2="209.80" y2="302.32" stroke="#f4a0a0" stroke-width="1.2"/>
<line x1="218.00" y1="302.32" x2="223.30" y2="302.32" stroke="#f4a0a0" stroke-width="1.2"/>
<ellipse cx="213.90" cy="302.32" rx="2.75" ry="3.20" fill="#ff0000"/>
<text transform="translate(225.56,306.02) scale(0.8414,1)" font-size="10.6" fill="#111">0.05 mmol/L</text>
<line x1="204.40" y1="316.64" x2="209.80" y2="316.64" stroke="#262626" stroke-width="1.2"/>
<line x1="218.00" y1="316.64" x2="223.30" y2="316.64" stroke="#262626" stroke-width="1.2"/>
<polygon points="213.90,313.39 217.15,319.89 210.65,319.89" fill="#0000ff"/>
<text transform="translate(225.56,320.34) scale(0.8414,1)" font-size="10.6" fill="#111">0.07 mmol/L</text>
<line x1="204.40" y1="330.96" x2="209.80" y2="330.96" stroke="#262626" stroke-width="1.2"/>
<line x1="218.00" y1="330.96" x2="223.30" y2="330.96" stroke="#262626" stroke-width="1.2"/>
<polygon points="213.90,334.26 217.20,327.66 210.60,327.66" fill="#008080"/>
<text transform="translate(225.56,334.66) scale(0.8414,1)" font-size="10.6" fill="#111">0.09 mmol/L</text>
<line x1="204.40" y1="345.28" x2="209.80" y2="345.28" stroke="#262626" stroke-width="1.2"/>
<line x1="218.00" y1="345.28" x2="223.30" y2="345.28" stroke="#262626" stroke-width="1.2"/>
<polygon points="210.90,345.28 216.90,341.53 216.90,349.03" fill="#ff00ff"/>
<text transform="translate(225.56,348.98) scale(0.8414,1)" font-size="10.6" fill="#111">0.10 mmol/L</text>
<line x1="204.40" y1="359.60" x2="209.80" y2="359.60" stroke="#262626" stroke-width="1.2"/>
<line x1="218.00" y1="359.60" x2="223.30" y2="359.60" stroke="#262626" stroke-width="1.2"/>
<polygon points="217.00,359.60 210.80,355.90 210.80,363.30" fill="#808000"/>
<text transform="translate(225.56,363.30) scale(0.8414,1)" font-size="10.6" fill="#111">0.30 mmol/L</text>
<line x1="204.40" y1="373.92" x2="209.80" y2="373.92" stroke="#eeeeb0" stroke-width="1.2"/>
<line x1="218.00" y1="373.92" x2="223.30" y2="373.92" stroke="#eeeeb0" stroke-width="1.2"/>
<polygon points="213.90,369.82 217.35,373.92 213.90,378.02 210.45,373.92" fill="#000080"/>
<text transform="translate(225.56,377.62) scale(0.8414,1)" font-size="10.6" fill="#111">0.50 mmol/L</text>
<line x1="204.40" y1="388.24" x2="209.80" y2="388.24" stroke="#262626" stroke-width="1.2"/>
<line x1="218.00" y1="388.24" x2="223.30" y2="388.24" stroke="#262626" stroke-width="1.2"/>
<polygon points="213.90,384.94 216.90,387.46 215.75,391.54 212.05,391.54 210.90,387.46" fill="#800000"/>
<text transform="translate(225.56,391.94) scale(0.8414,1)" font-size="10.6" fill="#111">0.70 mmol/L</text>
<line x1="204.40" y1="402.56" x2="209.80" y2="402.56" stroke="#262626" stroke-width="1.2"/>
<line x1="218.00" y1="402.56" x2="223.30" y2="402.56" stroke="#262626" stroke-width="1.2"/>
<polygon points="213.90,399.31 216.65,400.94 216.65,404.19 213.90,405.81 211.15,404.19 211.15,400.94" fill="#f0148c"/>
<text transform="translate(225.56,406.26) scale(0.8414,1)" font-size="10.6" fill="#111">1.00 mmol/L</text>
<line x1="204.40" y1="416.88" x2="209.80" y2="416.88" stroke="#262626" stroke-width="1.2"/>
<line x1="218.00" y1="416.88" x2="223.30" y2="416.88" stroke="#262626" stroke-width="1.2"/>
<polygon points="213.90,413.38 214.88,415.75 217.20,416.05 215.48,417.82 215.94,420.38 213.90,419.11 211.86,420.38 212.32,417.82 210.60,416.05 212.92,415.75" fill="#1a7f26"/>
<text transform="translate(225.56,420.58) scale(0.8414,1)" font-size="10.6" fill="#111">1.20 mmol/L</text>
<line x1="204.40" y1="431.20" x2="209.80" y2="431.20" stroke="#262626" stroke-width="1.2"/>
<line x1="218.00" y1="431.20" x2="223.30" y2="431.20" stroke="#262626" stroke-width="1.2"/>
<ellipse cx="213.90" cy="431.20" rx="2.90" ry="3.40" fill="url(#ballg)"/>
<text transform="translate(225.56,434.90) scale(0.8414,1)" font-size="10.6" fill="#111">1.30 mmol/L</text>
<line x1="204.40" y1="445.52" x2="209.80" y2="445.52" stroke="#262626" stroke-width="1.2"/>
<line x1="218.00" y1="445.52" x2="223.30" y2="445.52" stroke="#262626" stroke-width="1.2"/>
<rect x="211.60" y="442.62" width="4.60" height="5.80" fill="#ff7f0e"/>
<text transform="translate(225.56,449.22) scale(0.8414,1)" font-size="10.6" fill="#111">1.50 mmol/L</text>
<path d="M329.20,483.97L330.14,483.97M336.54,483.91L337.48,483.91M343.88,483.85L344.82,483.85M351.22,483.79L352.16,483.79M358.56,483.73L359.50,483.73M365.90,483.67L366.84,483.67M373.24,483.61L374.18,483.61M380.58,483.55L381.52,483.55M387.92,483.49L388.86,483.49M395.26,483.43L396.20,483.43M402.60,483.37L403.54,483.37M409.94,483.31L410.88,483.31M417.28,483.25L418.22,483.25M424.62,483.19L425.56,483.19M431.96,483.13L432.90,483.13M439.30,483.07L440.24,483.07M446.64,483.01L447.58,483.01M453.98,482.95L454.92,482.95M461.32,482.89L462.26,482.89M468.66,482.83L469.60,482.83M476.00,482.77L476.94,482.77" fill="none" stroke="#111" stroke-width="1.4"/>
<rect x="323.70" y="481.20" width="4.60" height="5.60" fill="#000"/>
<rect x="331.04" y="481.14" width="4.60" height="5.60" fill="#000"/>
<rect x="338.38" y="481.08" width="4.60" height="5.60" fill="#000"/>
<rect x="345.72" y="481.02" width="4.60" height="5.60" fill="#000"/>
<rect x="353.06" y="480.96" width="4.60" height="5.60" fill="#000"/>
<rect x="360.40" y="480.90" width="4.60" height="5.60" fill="#000"/>
<rect x="367.74" y="480.84" width="4.60" height="5.60" fill="#000"/>
<rect x="375.08" y="480.78" width="4.60" height="5.60" fill="#000"/>
<rect x="382.42" y="480.72" width="4.60" height="5.60" fill="#000"/>
<rect x="389.76" y="480.66" width="4.60" height="5.60" fill="#000"/>
<rect x="397.10" y="480.60" width="4.60" height="5.60" fill="#000"/>
<rect x="404.44" y="480.54" width="4.60" height="5.60" fill="#000"/>
<rect x="411.78" y="480.48" width="4.60" height="5.60" fill="#000"/>
<rect x="419.12" y="480.42" width="4.60" height="5.60" fill="#000"/>
<rect x="426.46" y="480.36" width="4.60" height="5.60" fill="#000"/>
<rect x="433.80" y="480.30" width="4.60" height="5.60" fill="#000"/>
<rect x="441.14" y="480.24" width="4.60" height="5.60" fill="#000"/>
<rect x="448.48" y="480.18" width="4.60" height="5.60" fill="#000"/>
<rect x="455.82" y="480.12" width="4.60" height="5.60" fill="#000"/>
<rect x="463.16" y="480.06" width="4.60" height="5.60" fill="#000"/>
<rect x="470.50" y="480.00" width="4.60" height="5.60" fill="#000"/>
<rect x="477.84" y="479.94" width="4.60" height="5.60" fill="#000"/>
<path d="M383.65,482.28L384.55,482.32M391.77,481.65L392.23,481.55M441.45,481.60L441.85,481.60" fill="none" stroke="#262626" stroke-width="1.2"/>
<ellipse cx="326.10" cy="484.30" rx="2.75" ry="3.20" fill="#ff0000"/>
<ellipse cx="333.40" cy="483.00" rx="2.75" ry="3.20" fill="#ff0000"/>
<ellipse cx="339.80" cy="483.90" rx="2.75" ry="3.20" fill="#ff0000"/>
<ellipse cx="346.20" cy="484.30" rx="2.75" ry="3.20" fill="#ff0000"/>
<ellipse cx="352.60" cy="483.90" rx="2.75" ry="3.20" fill="#ff0000"/>
<ellipse cx="359.00" cy="484.30" rx="2.75" ry="3.20" fill="#ff0000"/>
<ellipse cx="366.30" cy="482.10" rx="2.75" ry="3.20" fill="#ff0000"/>
<ellipse cx="373.20" cy="481.20" rx="2.75" ry="3.20" fill="#ff0000"/>
<ellipse cx="380.00" cy="482.10" rx="2.75" ry="3.20" fill="#ff0000"/>
<ellipse cx="388.20" cy="482.50" rx="2.75" ry="3.20" fill="#ff0000"/>
<ellipse cx="395.80" cy="480.70" rx="2.75" ry="3.20" fill="#ff0000"/>
<ellipse cx="402.80" cy="482.10" rx="2.75" ry="3.20" fill="#ff0000"/>
<ellipse cx="409.80" cy="482.00" rx="2.75" ry="3.20" fill="#ff0000"/>
<ellipse cx="417.00" cy="481.60" rx="2.75" ry="3.20" fill="#ff0000"/>
<ellipse cx="424.30" cy="482.00" rx="2.75" ry="3.20" fill="#ff0000"/>
<ellipse cx="431.30" cy="481.60" rx="2.75" ry="3.20" fill="#ff0000"/>
<ellipse cx="437.80" cy="481.60" rx="2.75" ry="3.20" fill="#ff0000"/>
<ellipse cx="445.50" cy="481.60" rx="2.75" ry="3.20" fill="#ff0000"/>
<ellipse cx="452.70" cy="482.00" rx="2.75" ry="3.20" fill="#ff0000"/>
<ellipse cx="459.70" cy="482.00" rx="2.75" ry="3.20" fill="#ff0000"/>
<ellipse cx="466.90" cy="482.70" rx="2.75" ry="3.20" fill="#ff0000"/>
<ellipse cx="473.90" cy="482.00" rx="2.75" ry="3.20" fill="#ff0000"/>
<polygon points="326.50,479.75 329.75,486.25 323.25,486.25" fill="#00ff00"/>
<polygon points="334.30,479.25 337.55,485.75 331.05,485.75" fill="#00ff00"/>
<polygon points="342.50,477.05 345.75,483.55 339.25,483.55" fill="#00ff00"/>
<polygon points="350.80,474.85 354.05,481.35 347.55,481.35" fill="#00ff00"/>
<polygon points="358.60,473.35 361.85,479.85 355.35,479.85" fill="#00ff00"/>
<polygon points="365.90,471.55 369.15,478.05 362.65,478.05" fill="#00ff00"/>
<polygon points="373.60,470.65 376.85,477.15 370.35,477.15" fill="#00ff00"/>
<polygon points="380.50,468.85 383.75,475.35 377.25,475.35" fill="#00ff00"/>
<polygon points="388.20,467.05 391.45,473.55 384.95,473.55" fill="#00ff00"/>
<polygon points="395.50,465.15 398.75,471.65 392.25,471.65" fill="#00ff00"/>
<polygon points="403.10,463.95 406.35,470.45 399.85,470.45" fill="#00ff00"/>
<polygon points="409.80,461.75 413.05,468.25 406.55,468.25" fill="#00ff00"/>
<polygon points="417.00,461.95 420.25,468.45 413.75,468.45" fill="#00ff00"/>
<polygon points="424.30,459.75 427.55,466.25 421.05,466.25" fill="#00ff00"/>
<polygon points="431.70,458.25 434.95,464.75 428.45,464.75" fill="#00ff00"/>
<polygon points="438.90,456.45 442.15,462.95 435.65,462.95" fill="#00ff00"/>
<polygon points="446.10,454.75 449.35,461.25 442.85,461.25" fill="#00ff00"/>
<polygon points="453.60,452.75 456.85,459.25 450.35,459.25" fill="#00ff00"/>
<polygon points="460.80,449.45 464.05,455.95 457.55,455.95" fill="#00ff00"/>
<polygon points="468.00,449.45 471.25,455.95 464.75,455.95" fill="#00ff00"/>
<polygon points="474.60,449.45 477.85,455.95 471.35,455.95" fill="#00ff00"/>
<polygon points="333.40,481.50 336.80,474.70 330.00,474.70" fill="#0000ff"/>
<polygon points="340.40,477.90 343.80,471.10 337.00,471.10" fill="#0000ff"/>
<polygon points="348.00,474.60 351.40,467.80 344.60,467.80" fill="#0000ff"/>
<polygon points="355.00,471.80 358.40,465.00 351.60,465.00" fill="#0000ff"/>
<polygon points="361.70,467.60 365.10,460.80 358.30,460.80" fill="#0000ff"/>
<polygon points="369.00,463.60 372.40,456.80 365.60,456.80" fill="#0000ff"/>
<polygon points="376.30,458.10 379.70,451.30 372.90,451.30" fill="#0000ff"/>
<polygon points="383.60,453.00 387.00,446.20 380.20,446.20" fill="#0000ff"/>
<polygon points="391.80,450.50 395.20,443.70 388.40,443.70" fill="#0000ff"/>
<polygon points="398.80,445.70 402.20,438.90 395.40,438.90" fill="#0000ff"/>
<polygon points="406.60,437.00 410.00,430.20 403.20,430.20" fill="#0000ff"/>
<polygon points="413.40,432.80 416.80,426.00 410.00,426.00" fill="#0000ff"/>
<polygon points="420.30,429.90 423.70,423.10 416.90,423.10" fill="#0000ff"/>
<polygon points="427.50,425.90 430.90,419.10 424.10,419.10" fill="#0000ff"/>
<polygon points="434.50,425.30 437.90,418.50 431.10,418.50" fill="#0000ff"/>
<polygon points="442.20,425.50 445.60,418.70 438.80,418.70" fill="#0000ff"/>
<polygon points="449.40,419.40 452.80,412.60 446.00,412.60" fill="#0000ff"/>
<polygon points="456.40,424.80 459.80,418.00 453.00,418.00" fill="#0000ff"/>
<polygon points="463.60,419.80 467.00,413.00 460.20,413.00" fill="#0000ff"/>
<polygon points="470.20,424.20 473.60,417.40 466.80,417.40" fill="#0000ff"/>
<path d="M329.23,476.77L333.97,471.43M354.80,458.61L357.10,453.99M362.06,445.67L368.94,435.83M381.85,427.56L383.85,424.84M403.89,411.31L405.51,409.29M411.59,402.03L412.41,401.07M424.39,391.61L428.71,377.69M448.00,372.34L449.20,370.96" fill="none" stroke="#262626" stroke-width="1.2" stroke-dasharray="4.2,1.5"/>
<polygon points="326.10,476.10 329.55,480.30 326.10,484.50 322.65,480.30" fill="#00ffff"/>
<polygon points="337.10,463.70 340.55,467.90 337.10,472.10 333.65,467.90" fill="#00ffff"/>
<polygon points="344.40,461.10 347.85,465.30 344.40,469.50 340.95,465.30" fill="#00ffff"/>
<polygon points="352.60,458.80 356.05,463.00 352.60,467.20 349.15,463.00" fill="#00ffff"/>
<polygon points="359.30,445.40 362.75,449.60 359.30,453.80 355.85,449.60" fill="#00ffff"/>
<polygon points="371.70,427.70 375.15,431.90 371.70,436.10 368.25,431.90" fill="#00ffff"/>
<polygon points="379.00,427.20 382.45,431.40 379.00,435.60 375.55,431.40" fill="#00ffff"/>
<polygon points="386.70,416.80 390.15,421.00 386.70,425.20 383.25,421.00" fill="#00ffff"/>
<polygon points="393.60,415.50 397.05,419.70 393.60,423.90 390.15,419.70" fill="#00ffff"/>
<polygon points="400.90,410.80 404.35,415.00 400.90,419.20 397.45,415.00" fill="#00ffff"/>
<polygon points="408.50,401.40 411.95,405.60 408.50,409.80 405.05,405.60" fill="#00ffff"/>
<polygon points="415.50,393.30 418.95,397.50 415.50,401.70 412.05,397.50" fill="#00ffff"/>
<polygon points="422.90,392.20 426.35,396.40 422.90,400.60 419.45,396.40" fill="#00ffff"/>
<polygon points="430.20,368.70 433.65,372.90 430.20,377.10 426.75,372.90" fill="#00ffff"/>
<polygon points="437.60,366.30 441.05,370.50 437.60,374.70 434.15,370.50" fill="#00ffff"/>
<polygon points="444.90,371.70 448.35,375.90 444.90,380.10 441.45,375.90" fill="#00ffff"/>
<polygon points="452.30,363.20 455.75,367.40 452.30,371.60 448.85,367.40" fill="#00ffff"/>
<polygon points="459.60,363.20 463.05,367.40 459.60,371.60 456.15,367.40" fill="#00ffff"/>
<polygon points="467.20,363.20 470.65,367.40 467.20,371.60 463.75,367.40" fill="#00ffff"/>
<polygon points="474.20,363.20 477.65,367.40 474.20,371.60 470.75,367.40" fill="#00ffff"/>
<path d="M327.69,469.78L331.21,462.12M334.36,453.49L339.44,435.21M344.18,428.94L344.52,428.76M349.11,422.43L354.39,400.77M359.20,395.43L359.50,395.37M366.46,392.28L368.54,390.82M374.68,385.47L376.42,383.63M382.63,378.44L383.07,378.16M389.05,372.65L390.95,370.25M396.98,364.86L397.52,364.54M410.41,355.07L412.79,351.73M418.50,345.74L419.50,344.96" fill="none" stroke="#262626" stroke-width="1.2" stroke-dasharray="4.2,1.5"/>
<polygon points="322.95,473.90 328.65,470.00 328.65,477.80" fill="#ff00ff"/>
<polygon points="330.25,458.00 335.95,454.10 335.95,461.90" fill="#ff00ff"/>
<polygon points="337.85,430.70 343.55,426.80 343.55,434.60" fill="#ff00ff"/>
<polygon points="345.15,427.00 350.85,423.10 350.85,430.90" fill="#ff00ff"/>
<polygon points="352.65,396.20 358.35,392.30 358.35,400.10" fill="#ff00ff"/>
<polygon points="360.35,394.60 366.05,390.70 366.05,398.50" fill="#ff00ff"/>
<polygon points="368.95,388.50 374.65,384.60 374.65,392.40" fill="#ff00ff"/>
<polygon points="376.45,380.60 382.15,376.70 382.15,384.50" fill="#ff00ff"/>
<polygon points="383.55,376.00 389.25,372.10 389.25,379.90" fill="#ff00ff"/>
<polygon points="390.75,366.90 396.45,363.00 396.45,370.80" fill="#ff00ff"/>
<polygon points="398.05,362.50 403.75,358.60 403.75,366.40" fill="#ff00ff"/>
<polygon points="405.05,358.60 410.75,354.70 410.75,362.50" fill="#ff00ff"/>
<polygon points="412.45,348.20 418.15,344.30 418.15,352.10" fill="#ff00ff"/>
<polygon points="419.85,342.50 425.55,338.60 425.55,346.40" fill="#ff00ff"/>
<polygon points="427.15,341.80 432.85,337.90 432.85,345.70" fill="#ff00ff"/>
<polygon points="434.55,341.60 440.25,337.70 440.25,345.50" fill="#ff00ff"/>
<polygon points="441.45,340.90 447.15,337.00 447.15,344.80" fill="#ff00ff"/>
<polygon points="448.35,342.00 454.05,338.10 454.05,345.90" fill="#ff00ff"/>
<polygon points="456.05,341.60 461.75,337.70 461.75,345.50" fill="#ff00ff"/>
<polygon points="462.95,340.60 468.65,336.70 468.65,344.50" fill="#ff00ff"/>
<polygon points="469.65,340.60 475.35,336.70 475.35,344.50" fill="#ff00ff"/>
<path d="M328.41,454.77L332.39,441.93M335.44,433.02L339.46,422.28M342.90,413.63L346.30,405.57M350.04,397.14L353.26,390.26M357.78,382.59L359.62,380.11M365.45,374.21L366.95,373.09M373.55,368.54L374.45,367.96M380.91,363.11L381.39,362.69M387.44,357.02L388.26,356.18M393.99,349.98L397.41,346.02M453.53,330.29L454.47,329.31M460.92,327.93L461.68,328.27" fill="none" stroke="#262626" stroke-width="1.2" stroke-dasharray="4.2,1.5"/>
<polygon points="329.85,459.30 324.15,455.30 324.15,463.30" fill="#ffff00"/>
<polygon points="336.65,437.40 330.95,433.40 330.95,441.40" fill="#ffff00"/>
<polygon points="343.95,417.90 338.25,413.90 338.25,421.90" fill="#ffff00"/>
<polygon points="350.95,401.30 345.25,397.30 345.25,405.30" fill="#ffff00"/>
<polygon points="358.05,386.10 352.35,382.10 352.35,390.10" fill="#ffff00"/>
<polygon points="365.05,376.60 359.35,372.60 359.35,380.60" fill="#ffff00"/>
<polygon points="373.05,370.70 367.35,366.70 367.35,374.70" fill="#ffff00"/>
<polygon points="380.65,365.80 374.95,361.80 374.95,369.80" fill="#ffff00"/>
<polygon points="387.35,360.00 381.65,356.00 381.65,364.00" fill="#ffff00"/>
<polygon points="394.05,353.20 388.35,349.20 388.35,357.20" fill="#ffff00"/>
<polygon points="403.05,342.80 397.35,338.80 397.35,346.80" fill="#ffff00"/>
<polygon points="409.65,341.10 403.95,337.10 403.95,345.10" fill="#ffff00"/>
<polygon points="415.35,338.50 409.65,334.50 409.65,342.50" fill="#ffff00"/>
<polygon points="421.65,335.80 415.95,331.80 415.95,339.80" fill="#ffff00"/>
<polygon points="428.35,333.00 422.65,329.00 422.65,337.00" fill="#ffff00"/>
<polygon points="435.35,331.50 429.65,327.50 429.65,335.50" fill="#ffff00"/>
<polygon points="440.35,330.00 434.65,326.00 434.65,334.00" fill="#ffff00"/>
<polygon points="446.45,329.20 440.75,325.20 440.75,333.20" fill="#ffff00"/>
<polygon points="453.45,333.30 447.75,329.30 447.75,337.30" fill="#ffff00"/>
<polygon points="460.25,326.30 454.55,322.30 454.55,330.30" fill="#ffff00"/>
<polygon points="468.05,329.90 462.35,325.90 462.35,333.90" fill="#ffff00"/>
<polygon points="474.85,333.30 469.15,329.30 469.15,337.30" fill="#ffff00"/>
<path d="M326.74,442.54L333.16,411.86M334.82,405.88L340.08,390.92M342.36,385.21L347.54,373.79M351.36,369.85L352.94,369.15M357.88,366.43L360.52,364.67M365.51,362.13L367.29,361.47M372.61,359.94L374.49,359.56M379.92,358.52L381.88,358.18M386.60,355.56L389.80,352.14M393.96,348.06L397.64,344.74M402.39,341.76L404.21,341.04M409.49,339.38L411.91,338.82M417.29,337.53L418.71,337.17M424.12,336.02L425.98,335.68M431.42,334.73L433.58,334.37M439.05,333.90L441.15,333.90M445.53,331.38L449.27,325.62M452.80,325.36L456.00,329.14M460.29,329.85L462.31,328.55M467.33,326.10L469.37,325.40" fill="none" stroke="#aaaaaa" stroke-width="1.0"/>
<ellipse cx="326.10" cy="445.60" rx="1.85" ry="2.25" fill="#808000"/>
<ellipse cx="333.80" cy="408.80" rx="1.85" ry="2.25" fill="#808000"/>
<ellipse cx="341.10" cy="388.00" rx="1.85" ry="2.25" fill="#808000"/>
<ellipse cx="348.80" cy="371.00" rx="1.85" ry="2.25" fill="#808000"/>
<ellipse cx="355.50" cy="368.00" rx="1.85" ry="2.25" fill="#808000"/>
<ellipse cx="362.90" cy="363.10" rx="1.85" ry="2.25" fill="#808000"/>
<ellipse cx="369.90" cy="360.50" rx="1.85" ry="2.25" fill="#808000"/>
<ellipse cx="377.20" cy="359.00" rx="1.85" ry="2.25" fill="#808000"/>
<ellipse cx="384.60" cy="357.70" rx="1.85" ry="2.25" fill="#808000"/>
<ellipse cx="391.80" cy="350.00" rx="1.85" ry="2.25" fill="#808000"/>
<ellipse cx="399.80" cy="342.80" rx="1.85" ry="2.25" fill="#808000"/>
<ellipse cx="406.80" cy="340.00" rx="1.85" ry="2.25" fill="#808000"/>
<ellipse cx="414.60" cy="338.20" rx="1.85" ry="2.25" fill="#808000"/>
<ellipse cx="421.40" cy="336.50" rx="1.85" ry="2.25" fill="#808000"/>
<ellipse cx="428.70" cy="335.20" rx="1.85" ry="2.25" fill="#808000"/>
<ellipse cx="436.30" cy="333.90" rx="1.85" ry="2.25" fill="#808000"/>
<ellipse cx="443.90" cy="333.90" rx="1.85" ry="2.25" fill="#808000"/>
<ellipse cx="450.90" cy="323.10" rx="1.85" ry="2.25" fill="#808000"/>
<ellipse cx="457.90" cy="331.40" rx="1.85" ry="2.25" fill="#808000"/>
<ellipse cx="464.70" cy="327.00" rx="1.85" ry="2.25" fill="#808000"/>
<ellipse cx="472.00" cy="324.50" rx="1.85" ry="2.25" fill="#808000"/>
<path d="M326.95,434.09L332.85,404.81M336.08,397.10L338.82,393.10M343.88,386.35L345.62,384.25M350.16,377.17L353.74,369.83M358.16,362.64L360.44,359.66M387.35,346.01L388.05,345.29M402.47,339.15L402.83,339.05M431.61,332.62L432.09,332.28M438.49,326.96L439.41,326.04" fill="none" stroke="#262626" stroke-width="1.2"/>
<polygon points="326.10,434.90 327.05,437.20 329.30,437.50 327.64,439.22 328.08,441.70 326.10,440.46 324.12,441.70 324.56,439.22 322.90,437.50 325.15,437.20" fill="#000080"/>
<polygon points="333.70,397.20 334.65,399.50 336.90,399.80 335.24,401.52 335.68,404.00 333.70,402.76 331.72,404.00 332.16,401.52 330.50,399.80 332.75,399.50" fill="#000080"/>
<polygon points="341.20,386.20 342.15,388.50 344.40,388.80 342.74,390.52 343.18,393.00 341.20,391.76 339.22,393.00 339.66,390.52 338.00,388.80 340.25,388.50" fill="#000080"/>
<polygon points="348.30,377.60 349.25,379.90 351.50,380.20 349.84,381.92 350.28,384.40 348.30,383.16 346.32,384.40 346.76,381.92 345.10,380.20 347.35,379.90" fill="#000080"/>
<polygon points="355.60,362.60 356.55,364.90 358.80,365.20 357.14,366.92 357.58,369.40 355.60,368.16 353.62,369.40 354.06,366.92 352.40,365.20 354.65,364.90" fill="#000080"/>
<polygon points="363.00,352.90 363.95,355.20 366.20,355.50 364.54,357.22 364.98,359.70 363.00,358.46 361.02,359.70 361.46,357.22 359.80,355.50 362.05,355.20" fill="#000080"/>
<polygon points="370.00,349.60 370.95,351.90 373.20,352.20 371.54,353.92 371.98,356.40 370.00,355.16 368.02,356.40 368.46,353.92 366.80,352.20 369.05,351.90" fill="#000080"/>
<polygon points="377.40,347.00 378.35,349.30 380.60,349.60 378.94,351.32 379.38,353.80 377.40,352.56 375.42,353.80 375.86,351.32 374.20,349.60 376.45,349.30" fill="#000080"/>
<polygon points="384.40,345.60 385.35,347.90 387.60,348.20 385.94,349.92 386.38,352.40 384.40,351.16 382.42,352.40 382.86,349.92 381.20,348.20 383.45,347.90" fill="#000080"/>
<polygon points="391.00,338.90 391.95,341.20 394.20,341.50 392.54,343.22 392.98,345.70 391.00,344.46 389.02,345.70 389.46,343.22 387.80,341.50 390.05,341.20" fill="#000080"/>
<polygon points="398.50,336.80 399.45,339.10 401.70,339.40 400.04,341.12 400.48,343.60 398.50,342.36 396.52,343.60 396.96,341.12 395.30,339.40 397.55,339.10" fill="#000080"/>
<polygon points="406.80,334.60 407.75,336.90 410.00,337.20 408.34,338.92 408.78,341.40 406.80,340.16 404.82,341.40 405.26,338.92 403.60,337.20 405.85,336.90" fill="#000080"/>
<polygon points="414.10,330.90 415.05,333.20 417.30,333.50 415.64,335.22 416.08,337.70 414.10,336.46 412.12,337.70 412.56,335.22 410.90,333.50 413.15,333.20" fill="#000080"/>
<polygon points="421.40,329.40 422.35,331.70 424.60,332.00 422.94,333.72 423.38,336.20 421.40,334.96 419.42,336.20 419.86,333.72 418.20,332.00 420.45,331.70" fill="#000080"/>
<polygon points="428.20,331.60 429.15,333.90 431.40,334.20 429.74,335.92 430.18,338.40 428.20,337.16 426.22,338.40 426.66,335.92 425.00,334.20 427.25,333.90" fill="#000080"/>
<polygon points="435.50,326.50 436.45,328.80 438.70,329.10 437.04,330.82 437.48,333.30 435.50,332.06 433.52,333.30 433.96,330.82 432.30,329.10 434.55,328.80" fill="#000080"/>
<polygon points="442.40,319.70 443.35,322.00 445.60,322.30 443.94,324.02 444.38,326.50 442.40,325.26 440.42,326.50 440.86,324.02 439.20,322.30 441.45,322.00" fill="#000080"/>
<polygon points="449.40,321.40 450.35,323.70 452.60,324.00 450.94,325.72 451.38,328.20 449.40,326.96 447.42,328.20 447.86,325.72 446.20,324.00 448.45,323.70" fill="#000080"/>
<polygon points="456.70,317.00 457.65,319.30 459.90,319.60 458.24,321.32 458.68,323.80 456.70,322.56 454.72,323.80 455.16,321.32 453.50,319.60 455.75,319.30" fill="#000080"/>
<polygon points="463.70,319.70 464.65,322.00 466.90,322.30 465.24,324.02 465.68,326.50 463.70,325.26 461.72,326.50 462.16,324.02 460.50,322.30 462.75,322.00" fill="#000080"/>
<polygon points="471.00,317.00 471.95,319.30 474.20,319.60 472.54,321.32 472.98,323.80 471.00,322.56 469.02,323.80 469.46,321.32 467.80,319.60 470.05,319.30" fill="#000080"/>
<path d="M327.29,413.00L332.41,394.50M336.65,387.19L338.25,385.61M344.81,380.29L345.09,380.11M349.90,373.53L354.10,359.67M358.88,353.02L359.22,352.78M429.93,321.20L430.67,320.50" fill="none" stroke="#262626" stroke-width="1.2"/>
<polygon points="326.10,413.70 329.30,416.45 328.08,420.90 324.12,420.90 322.90,416.45" fill="#800080"/>
<polygon points="333.60,386.60 336.80,389.35 335.58,393.80 331.62,393.80 330.40,389.35" fill="#800080"/>
<polygon points="341.30,379.00 344.50,381.75 343.28,386.20 339.32,386.20 338.10,381.75" fill="#800080"/>
<polygon points="348.60,374.20 351.80,376.95 350.58,381.40 346.62,381.40 345.40,376.95" fill="#800080"/>
<polygon points="355.40,351.80 358.60,354.55 357.38,359.00 353.42,359.00 352.20,354.55" fill="#800080"/>
<polygon points="362.70,346.80 365.90,349.55 364.68,354.00 360.72,354.00 359.50,349.55" fill="#800080"/>
<polygon points="369.80,346.40 373.00,349.15 371.78,353.60 367.82,353.60 366.60,349.15" fill="#800080"/>
<polygon points="376.70,341.20 379.90,343.95 378.68,348.40 374.72,348.40 373.50,343.95" fill="#800080"/>
<polygon points="383.90,336.70 387.10,339.45 385.88,343.90 381.92,343.90 380.70,339.45" fill="#800080"/>
<polygon points="391.00,333.90 394.20,336.65 392.98,341.10 389.02,341.10 387.80,336.65" fill="#800080"/>
<polygon points="398.00,332.20 401.20,334.95 399.98,339.40 396.02,339.40 394.80,334.95" fill="#800080"/>
<polygon points="405.00,328.70 408.20,331.45 406.98,335.90 403.02,335.90 401.80,331.45" fill="#800080"/>
<polygon points="412.20,325.60 415.40,328.35 414.18,332.80 410.22,332.80 409.00,328.35" fill="#800080"/>
<polygon points="419.00,322.00 422.20,324.75 420.98,329.20 417.02,329.20 415.80,324.75" fill="#800080"/>
<polygon points="426.80,320.50 430.00,323.25 428.78,327.70 424.82,327.70 423.60,323.25" fill="#800080"/>
<polygon points="433.80,314.00 437.00,316.75 435.78,321.20 431.82,321.20 430.60,316.75" fill="#800080"/>
<polygon points="440.70,310.30 443.90,313.05 442.68,317.50 438.72,317.50 437.50,313.05" fill="#800080"/>
<polygon points="447.70,311.30 450.90,314.05 449.68,318.50 445.72,318.50 444.50,314.05" fill="#800080"/>
<polygon points="455.00,311.70 458.20,314.45 456.98,318.90 453.02,318.90 451.80,314.45" fill="#800080"/>
<polygon points="461.80,309.20 465.00,311.95 463.78,316.40 459.82,316.40 458.60,311.95" fill="#800080"/>
<polygon points="468.80,311.00 472.00,313.75 470.78,318.20 466.82,318.20 465.60,313.75" fill="#800080"/>
<line x1="476.60" y1="287.00" x2="481.80" y2="287.00" stroke="#262626" stroke-width="1.2"/>
<line x1="489.80" y1="287.00" x2="494.80" y2="287.00" stroke="#262626" stroke-width="1.2"/>
<rect x="483.50" y="284.20" width="4.60" height="5.60" fill="#000"/>
<text transform="translate(494.45,290.70) scale(0.8745,1)" font-size="10.6" fill="#111">0.10 mmol/L</text>
<line x1="476.60" y1="301.24" x2="481.80" y2="301.24" stroke="#262626" stroke-width="1.2"/>
<line x1="489.80" y1="301.24" x2="494.80" y2="301.24" stroke="#262626" stroke-width="1.2"/>
<ellipse cx="485.80" cy="301.24" rx="2.75" ry="3.20" fill="#ff0000"/>
<text transform="translate(494.45,304.94) scale(0.8745,1)" font-size="10.6" fill="#111">0.15 mmol/L</text>
<line x1="476.60" y1="315.48" x2="481.80" y2="315.48" stroke="#262626" stroke-width="1.2"/>
<line x1="489.80" y1="315.48" x2="494.80" y2="315.48" stroke="#262626" stroke-width="1.2"/>
<polygon points="485.80,312.23 489.05,318.73 482.55,318.73" fill="#00ff00"/>
<text transform="translate(494.45,319.18) scale(0.8745,1)" font-size="10.6" fill="#111">0.20 mmol/L</text>
<line x1="476.60" y1="329.72" x2="481.80" y2="329.72" stroke="#262626" stroke-width="1.2"/>
<line x1="489.80" y1="329.72" x2="494.80" y2="329.72" stroke="#262626" stroke-width="1.2"/>
<polygon points="485.80,333.12 489.20,326.32 482.40,326.32" fill="#0000ff"/>
<text transform="translate(494.45,333.42) scale(0.8745,1)" font-size="10.6" fill="#111">0.30 mmol/L</text>
<line x1="476.60" y1="343.96" x2="481.80" y2="343.96" stroke="#262626" stroke-width="1.2"/>
<line x1="489.80" y1="343.96" x2="494.80" y2="343.96" stroke="#262626" stroke-width="1.2"/>
<polygon points="485.80,339.76 489.25,343.96 485.80,348.16 482.35,343.96" fill="#00ffff"/>
<text transform="translate(494.45,347.66) scale(0.8745,1)" font-size="10.6" fill="#111">0.50 mmol/L</text>
<line x1="476.60" y1="358.20" x2="481.80" y2="358.20" stroke="#262626" stroke-width="1.2"/>
<line x1="489.80" y1="358.20" x2="494.80" y2="358.20" stroke="#262626" stroke-width="1.2"/>
<polygon points="482.95,358.20 488.65,354.30 488.65,362.10" fill="#ff00ff"/>
<text transform="translate(494.45,361.90) scale(0.8745,1)" font-size="10.6" fill="#111">0.90 mmol/L</text>
<line x1="476.60" y1="372.44" x2="481.80" y2="372.44" stroke="#262626" stroke-width="1.2"/>
<line x1="489.80" y1="372.44" x2="494.80" y2="372.44" stroke="#262626" stroke-width="1.2"/>
<polygon points="488.65,372.44 482.95,368.44 482.95,376.44" fill="#ffff00"/>
<text transform="translate(494.45,376.14) scale(0.8745,1)" font-size="10.6" fill="#111">1.00 mmol/L</text>
<line x1="476.60" y1="386.68" x2="481.80" y2="386.68" stroke="#aaaaaa" stroke-width="1.2"/>
<line x1="489.80" y1="386.68" x2="494.80" y2="386.68" stroke="#aaaaaa" stroke-width="1.2"/>
<ellipse cx="485.80" cy="386.68" rx="1.85" ry="2.25" fill="#808000"/>
<text transform="translate(494.45,390.38) scale(0.8745,1)" font-size="10.6" fill="#111">1.50 mmol/L</text>
<line x1="476.60" y1="400.92" x2="481.80" y2="400.92" stroke="#262626" stroke-width="1.2"/>
<line x1="489.80" y1="400.92" x2="494.80" y2="400.92" stroke="#262626" stroke-width="1.2"/>
<polygon points="485.80,397.52 486.75,399.82 489.00,400.12 487.34,401.84 487.78,404.32 485.80,403.08 483.82,404.32 484.26,401.84 482.60,400.12 484.85,399.82" fill="#000080"/>
<text transform="translate(494.45,404.62) scale(0.8745,1)" font-size="10.6" fill="#111">2.00 mmol/L</text>
<line x1="476.60" y1="415.16" x2="481.80" y2="415.16" stroke="#262626" stroke-width="1.2"/>
<line x1="489.80" y1="415.16" x2="494.80" y2="415.16" stroke="#262626" stroke-width="1.2"/>
<polygon points="485.80,411.56 489.00,414.31 487.78,418.76 483.82,418.76 482.60,414.31" fill="#800080"/>
<text transform="translate(494.45,418.86) scale(0.8745,1)" font-size="10.6" fill="#111">3.00 mmol/L</text>
</svg></body></html>
